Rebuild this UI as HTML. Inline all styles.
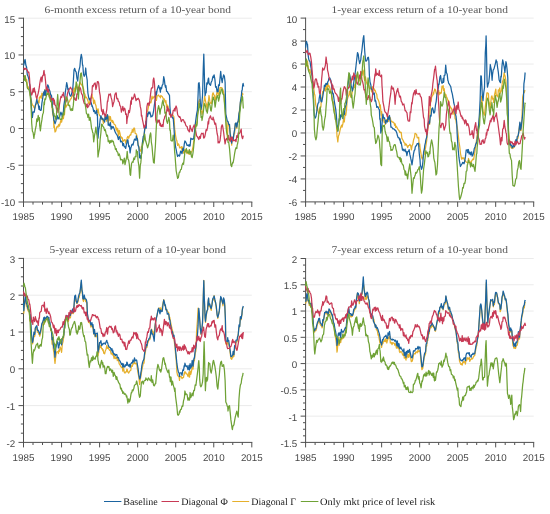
<!DOCTYPE html>
<html><head><meta charset="utf-8"><style>
html,body{margin:0;padding:0;background:#fff;width:550px;height:514px;overflow:hidden}
svg{display:block;filter:blur(0.4px)}
text{text-rendering:geometricPrecision}
.t{font-family:"Liberation Sans",sans-serif;font-size:9.8px;fill:#474747}
.ti{font-family:"Liberation Serif",serif;font-size:10.2px;fill:#555555}
.lg{font-family:"Liberation Serif",serif;font-size:10px;fill:#1a1a1a}
</style></head><body>
<svg width="550" height="514" viewBox="0 0 550 514">
<rect width="550" height="514" fill="#fff"/>
<line x1="23.5" y1="18.20" x2="251.8" y2="18.20" stroke="#ebebeb" stroke-width="1"/>
<line x1="23.5" y1="54.96" x2="251.8" y2="54.96" stroke="#ebebeb" stroke-width="1"/>
<line x1="23.5" y1="91.72" x2="251.8" y2="91.72" stroke="#ebebeb" stroke-width="1"/>
<line x1="23.5" y1="128.48" x2="251.8" y2="128.48" stroke="#ebebeb" stroke-width="1"/>
<line x1="23.5" y1="165.24" x2="251.8" y2="165.24" stroke="#ebebeb" stroke-width="1"/>
<line x1="18.5" y1="18.20" x2="23.5" y2="18.20" stroke="#505050" stroke-width="1"/>
<line x1="20.9" y1="27.39" x2="23.5" y2="27.39" stroke="#505050" stroke-width="1"/>
<line x1="20.9" y1="36.58" x2="23.5" y2="36.58" stroke="#505050" stroke-width="1"/>
<line x1="20.9" y1="45.77" x2="23.5" y2="45.77" stroke="#505050" stroke-width="1"/>
<line x1="18.5" y1="54.96" x2="23.5" y2="54.96" stroke="#505050" stroke-width="1"/>
<line x1="20.9" y1="64.15" x2="23.5" y2="64.15" stroke="#505050" stroke-width="1"/>
<line x1="20.9" y1="73.34" x2="23.5" y2="73.34" stroke="#505050" stroke-width="1"/>
<line x1="20.9" y1="82.53" x2="23.5" y2="82.53" stroke="#505050" stroke-width="1"/>
<line x1="18.5" y1="91.72" x2="23.5" y2="91.72" stroke="#505050" stroke-width="1"/>
<line x1="20.9" y1="100.91" x2="23.5" y2="100.91" stroke="#505050" stroke-width="1"/>
<line x1="20.9" y1="110.10" x2="23.5" y2="110.10" stroke="#505050" stroke-width="1"/>
<line x1="20.9" y1="119.29" x2="23.5" y2="119.29" stroke="#505050" stroke-width="1"/>
<line x1="18.5" y1="128.48" x2="23.5" y2="128.48" stroke="#505050" stroke-width="1"/>
<line x1="20.9" y1="137.67" x2="23.5" y2="137.67" stroke="#505050" stroke-width="1"/>
<line x1="20.9" y1="146.86" x2="23.5" y2="146.86" stroke="#505050" stroke-width="1"/>
<line x1="20.9" y1="156.05" x2="23.5" y2="156.05" stroke="#505050" stroke-width="1"/>
<line x1="18.5" y1="165.24" x2="23.5" y2="165.24" stroke="#505050" stroke-width="1"/>
<line x1="20.9" y1="174.43" x2="23.5" y2="174.43" stroke="#505050" stroke-width="1"/>
<line x1="20.9" y1="183.62" x2="23.5" y2="183.62" stroke="#505050" stroke-width="1"/>
<line x1="20.9" y1="192.81" x2="23.5" y2="192.81" stroke="#505050" stroke-width="1"/>
<line x1="18.5" y1="202.00" x2="23.5" y2="202.00" stroke="#505050" stroke-width="1"/>
<line x1="23.50" y1="202.0" x2="23.50" y2="207.0" stroke="#505050" stroke-width="1"/>
<line x1="33.01" y1="202.0" x2="33.01" y2="204.6" stroke="#505050" stroke-width="1"/>
<line x1="42.52" y1="202.0" x2="42.52" y2="204.6" stroke="#505050" stroke-width="1"/>
<line x1="52.04" y1="202.0" x2="52.04" y2="204.6" stroke="#505050" stroke-width="1"/>
<line x1="61.55" y1="202.0" x2="61.55" y2="207.0" stroke="#505050" stroke-width="1"/>
<line x1="71.06" y1="202.0" x2="71.06" y2="204.6" stroke="#505050" stroke-width="1"/>
<line x1="80.58" y1="202.0" x2="80.58" y2="204.6" stroke="#505050" stroke-width="1"/>
<line x1="90.09" y1="202.0" x2="90.09" y2="204.6" stroke="#505050" stroke-width="1"/>
<line x1="99.60" y1="202.0" x2="99.60" y2="207.0" stroke="#505050" stroke-width="1"/>
<line x1="109.11" y1="202.0" x2="109.11" y2="204.6" stroke="#505050" stroke-width="1"/>
<line x1="118.63" y1="202.0" x2="118.63" y2="204.6" stroke="#505050" stroke-width="1"/>
<line x1="128.14" y1="202.0" x2="128.14" y2="204.6" stroke="#505050" stroke-width="1"/>
<line x1="137.65" y1="202.0" x2="137.65" y2="207.0" stroke="#505050" stroke-width="1"/>
<line x1="147.16" y1="202.0" x2="147.16" y2="204.6" stroke="#505050" stroke-width="1"/>
<line x1="156.68" y1="202.0" x2="156.68" y2="204.6" stroke="#505050" stroke-width="1"/>
<line x1="166.19" y1="202.0" x2="166.19" y2="204.6" stroke="#505050" stroke-width="1"/>
<line x1="175.70" y1="202.0" x2="175.70" y2="207.0" stroke="#505050" stroke-width="1"/>
<line x1="185.21" y1="202.0" x2="185.21" y2="204.6" stroke="#505050" stroke-width="1"/>
<line x1="194.73" y1="202.0" x2="194.73" y2="204.6" stroke="#505050" stroke-width="1"/>
<line x1="204.24" y1="202.0" x2="204.24" y2="204.6" stroke="#505050" stroke-width="1"/>
<line x1="213.75" y1="202.0" x2="213.75" y2="207.0" stroke="#505050" stroke-width="1"/>
<line x1="223.26" y1="202.0" x2="223.26" y2="204.6" stroke="#505050" stroke-width="1"/>
<line x1="232.78" y1="202.0" x2="232.78" y2="204.6" stroke="#505050" stroke-width="1"/>
<line x1="242.29" y1="202.0" x2="242.29" y2="204.6" stroke="#505050" stroke-width="1"/>
<line x1="251.80" y1="202.0" x2="251.80" y2="207.0" stroke="#505050" stroke-width="1"/>
<line x1="23.5" y1="17.7" x2="23.5" y2="202.5" stroke="#505050" stroke-width="1"/>
<line x1="23.0" y1="202.0" x2="252.3" y2="202.0" stroke="#505050" stroke-width="1"/>
<text x="15.2" y="22.6" text-anchor="end" class="t">15</text>
<text x="15.2" y="59.4" text-anchor="end" class="t">10</text>
<text x="15.2" y="96.1" text-anchor="end" class="t">5</text>
<text x="15.2" y="132.9" text-anchor="end" class="t">0</text>
<text x="15.2" y="169.6" text-anchor="end" class="t">-5</text>
<text x="15.2" y="206.4" text-anchor="end" class="t">-10</text>
<text x="23.5" y="220.4" text-anchor="middle" class="t">1985</text>
<text x="61.5" y="220.4" text-anchor="middle" class="t">1990</text>
<text x="99.6" y="220.4" text-anchor="middle" class="t">1995</text>
<text x="137.7" y="220.4" text-anchor="middle" class="t">2000</text>
<text x="175.7" y="220.4" text-anchor="middle" class="t">2005</text>
<text x="213.8" y="220.4" text-anchor="middle" class="t">2010</text>
<text x="251.8" y="220.4" text-anchor="middle" class="t">2015</text>
<text x="44.5" y="12.8" class="ti" textLength="186.4" lengthAdjust="spacingAndGlyphs">6-month excess return of a 10-year bond</text>
<line x1="305.6" y1="18.10" x2="533.7" y2="18.10" stroke="#ebebeb" stroke-width="1"/>
<line x1="305.6" y1="41.08" x2="533.7" y2="41.08" stroke="#ebebeb" stroke-width="1"/>
<line x1="305.6" y1="64.05" x2="533.7" y2="64.05" stroke="#ebebeb" stroke-width="1"/>
<line x1="305.6" y1="87.03" x2="533.7" y2="87.03" stroke="#ebebeb" stroke-width="1"/>
<line x1="305.6" y1="110.00" x2="533.7" y2="110.00" stroke="#ebebeb" stroke-width="1"/>
<line x1="305.6" y1="132.97" x2="533.7" y2="132.97" stroke="#ebebeb" stroke-width="1"/>
<line x1="305.6" y1="155.95" x2="533.7" y2="155.95" stroke="#ebebeb" stroke-width="1"/>
<line x1="305.6" y1="178.93" x2="533.7" y2="178.93" stroke="#ebebeb" stroke-width="1"/>
<line x1="300.6" y1="18.10" x2="305.6" y2="18.10" stroke="#505050" stroke-width="1"/>
<line x1="303.0" y1="29.59" x2="305.6" y2="29.59" stroke="#505050" stroke-width="1"/>
<line x1="300.6" y1="41.08" x2="305.6" y2="41.08" stroke="#505050" stroke-width="1"/>
<line x1="303.0" y1="52.56" x2="305.6" y2="52.56" stroke="#505050" stroke-width="1"/>
<line x1="300.6" y1="64.05" x2="305.6" y2="64.05" stroke="#505050" stroke-width="1"/>
<line x1="303.0" y1="75.54" x2="305.6" y2="75.54" stroke="#505050" stroke-width="1"/>
<line x1="300.6" y1="87.03" x2="305.6" y2="87.03" stroke="#505050" stroke-width="1"/>
<line x1="303.0" y1="98.51" x2="305.6" y2="98.51" stroke="#505050" stroke-width="1"/>
<line x1="300.6" y1="110.00" x2="305.6" y2="110.00" stroke="#505050" stroke-width="1"/>
<line x1="303.0" y1="121.49" x2="305.6" y2="121.49" stroke="#505050" stroke-width="1"/>
<line x1="300.6" y1="132.97" x2="305.6" y2="132.97" stroke="#505050" stroke-width="1"/>
<line x1="303.0" y1="144.46" x2="305.6" y2="144.46" stroke="#505050" stroke-width="1"/>
<line x1="300.6" y1="155.95" x2="305.6" y2="155.95" stroke="#505050" stroke-width="1"/>
<line x1="303.0" y1="167.44" x2="305.6" y2="167.44" stroke="#505050" stroke-width="1"/>
<line x1="300.6" y1="178.93" x2="305.6" y2="178.93" stroke="#505050" stroke-width="1"/>
<line x1="303.0" y1="190.41" x2="305.6" y2="190.41" stroke="#505050" stroke-width="1"/>
<line x1="300.6" y1="201.90" x2="305.6" y2="201.90" stroke="#505050" stroke-width="1"/>
<line x1="305.60" y1="201.9" x2="305.60" y2="206.9" stroke="#505050" stroke-width="1"/>
<line x1="315.10" y1="201.9" x2="315.10" y2="204.5" stroke="#505050" stroke-width="1"/>
<line x1="324.61" y1="201.9" x2="324.61" y2="204.5" stroke="#505050" stroke-width="1"/>
<line x1="334.11" y1="201.9" x2="334.11" y2="204.5" stroke="#505050" stroke-width="1"/>
<line x1="343.62" y1="201.9" x2="343.62" y2="206.9" stroke="#505050" stroke-width="1"/>
<line x1="353.12" y1="201.9" x2="353.12" y2="204.5" stroke="#505050" stroke-width="1"/>
<line x1="362.62" y1="201.9" x2="362.62" y2="204.5" stroke="#505050" stroke-width="1"/>
<line x1="372.13" y1="201.9" x2="372.13" y2="204.5" stroke="#505050" stroke-width="1"/>
<line x1="381.63" y1="201.9" x2="381.63" y2="206.9" stroke="#505050" stroke-width="1"/>
<line x1="391.14" y1="201.9" x2="391.14" y2="204.5" stroke="#505050" stroke-width="1"/>
<line x1="400.64" y1="201.9" x2="400.64" y2="204.5" stroke="#505050" stroke-width="1"/>
<line x1="410.15" y1="201.9" x2="410.15" y2="204.5" stroke="#505050" stroke-width="1"/>
<line x1="419.65" y1="201.9" x2="419.65" y2="206.9" stroke="#505050" stroke-width="1"/>
<line x1="429.15" y1="201.9" x2="429.15" y2="204.5" stroke="#505050" stroke-width="1"/>
<line x1="438.66" y1="201.9" x2="438.66" y2="204.5" stroke="#505050" stroke-width="1"/>
<line x1="448.16" y1="201.9" x2="448.16" y2="204.5" stroke="#505050" stroke-width="1"/>
<line x1="457.67" y1="201.9" x2="457.67" y2="206.9" stroke="#505050" stroke-width="1"/>
<line x1="467.17" y1="201.9" x2="467.17" y2="204.5" stroke="#505050" stroke-width="1"/>
<line x1="476.68" y1="201.9" x2="476.68" y2="204.5" stroke="#505050" stroke-width="1"/>
<line x1="486.18" y1="201.9" x2="486.18" y2="204.5" stroke="#505050" stroke-width="1"/>
<line x1="495.68" y1="201.9" x2="495.68" y2="206.9" stroke="#505050" stroke-width="1"/>
<line x1="505.19" y1="201.9" x2="505.19" y2="204.5" stroke="#505050" stroke-width="1"/>
<line x1="514.69" y1="201.9" x2="514.69" y2="204.5" stroke="#505050" stroke-width="1"/>
<line x1="524.20" y1="201.9" x2="524.20" y2="204.5" stroke="#505050" stroke-width="1"/>
<line x1="533.70" y1="201.9" x2="533.70" y2="206.9" stroke="#505050" stroke-width="1"/>
<line x1="305.6" y1="17.6" x2="305.6" y2="202.4" stroke="#505050" stroke-width="1"/>
<line x1="305.1" y1="201.9" x2="534.2" y2="201.9" stroke="#505050" stroke-width="1"/>
<text x="297.3" y="22.5" text-anchor="end" class="t">10</text>
<text x="297.3" y="45.5" text-anchor="end" class="t">8</text>
<text x="297.3" y="68.5" text-anchor="end" class="t">6</text>
<text x="297.3" y="91.4" text-anchor="end" class="t">4</text>
<text x="297.3" y="114.4" text-anchor="end" class="t">2</text>
<text x="297.3" y="137.4" text-anchor="end" class="t">0</text>
<text x="297.3" y="160.4" text-anchor="end" class="t">-2</text>
<text x="297.3" y="183.3" text-anchor="end" class="t">-4</text>
<text x="297.3" y="206.3" text-anchor="end" class="t">-6</text>
<text x="305.6" y="220.3" text-anchor="middle" class="t">1985</text>
<text x="343.6" y="220.3" text-anchor="middle" class="t">1990</text>
<text x="381.6" y="220.3" text-anchor="middle" class="t">1995</text>
<text x="419.7" y="220.3" text-anchor="middle" class="t">2000</text>
<text x="457.7" y="220.3" text-anchor="middle" class="t">2005</text>
<text x="495.7" y="220.3" text-anchor="middle" class="t">2010</text>
<text x="533.7" y="220.3" text-anchor="middle" class="t">2015</text>
<text x="331.5" y="12.8" class="ti" textLength="176.4" lengthAdjust="spacingAndGlyphs">1-year excess return of a 10-year bond</text>
<line x1="23.5" y1="258.40" x2="251.8" y2="258.40" stroke="#ebebeb" stroke-width="1"/>
<line x1="23.5" y1="295.20" x2="251.8" y2="295.20" stroke="#ebebeb" stroke-width="1"/>
<line x1="23.5" y1="332.00" x2="251.8" y2="332.00" stroke="#ebebeb" stroke-width="1"/>
<line x1="23.5" y1="368.80" x2="251.8" y2="368.80" stroke="#ebebeb" stroke-width="1"/>
<line x1="23.5" y1="405.60" x2="251.8" y2="405.60" stroke="#ebebeb" stroke-width="1"/>
<line x1="18.5" y1="258.40" x2="23.5" y2="258.40" stroke="#505050" stroke-width="1"/>
<line x1="20.9" y1="267.60" x2="23.5" y2="267.60" stroke="#505050" stroke-width="1"/>
<line x1="20.9" y1="276.80" x2="23.5" y2="276.80" stroke="#505050" stroke-width="1"/>
<line x1="20.9" y1="286.00" x2="23.5" y2="286.00" stroke="#505050" stroke-width="1"/>
<line x1="18.5" y1="295.20" x2="23.5" y2="295.20" stroke="#505050" stroke-width="1"/>
<line x1="20.9" y1="304.40" x2="23.5" y2="304.40" stroke="#505050" stroke-width="1"/>
<line x1="20.9" y1="313.60" x2="23.5" y2="313.60" stroke="#505050" stroke-width="1"/>
<line x1="20.9" y1="322.80" x2="23.5" y2="322.80" stroke="#505050" stroke-width="1"/>
<line x1="18.5" y1="332.00" x2="23.5" y2="332.00" stroke="#505050" stroke-width="1"/>
<line x1="20.9" y1="341.20" x2="23.5" y2="341.20" stroke="#505050" stroke-width="1"/>
<line x1="20.9" y1="350.40" x2="23.5" y2="350.40" stroke="#505050" stroke-width="1"/>
<line x1="20.9" y1="359.60" x2="23.5" y2="359.60" stroke="#505050" stroke-width="1"/>
<line x1="18.5" y1="368.80" x2="23.5" y2="368.80" stroke="#505050" stroke-width="1"/>
<line x1="20.9" y1="378.00" x2="23.5" y2="378.00" stroke="#505050" stroke-width="1"/>
<line x1="20.9" y1="387.20" x2="23.5" y2="387.20" stroke="#505050" stroke-width="1"/>
<line x1="20.9" y1="396.40" x2="23.5" y2="396.40" stroke="#505050" stroke-width="1"/>
<line x1="18.5" y1="405.60" x2="23.5" y2="405.60" stroke="#505050" stroke-width="1"/>
<line x1="20.9" y1="414.80" x2="23.5" y2="414.80" stroke="#505050" stroke-width="1"/>
<line x1="20.9" y1="424.00" x2="23.5" y2="424.00" stroke="#505050" stroke-width="1"/>
<line x1="20.9" y1="433.20" x2="23.5" y2="433.20" stroke="#505050" stroke-width="1"/>
<line x1="18.5" y1="442.40" x2="23.5" y2="442.40" stroke="#505050" stroke-width="1"/>
<line x1="23.50" y1="442.4" x2="23.50" y2="447.4" stroke="#505050" stroke-width="1"/>
<line x1="33.01" y1="442.4" x2="33.01" y2="445.0" stroke="#505050" stroke-width="1"/>
<line x1="42.52" y1="442.4" x2="42.52" y2="445.0" stroke="#505050" stroke-width="1"/>
<line x1="52.04" y1="442.4" x2="52.04" y2="445.0" stroke="#505050" stroke-width="1"/>
<line x1="61.55" y1="442.4" x2="61.55" y2="447.4" stroke="#505050" stroke-width="1"/>
<line x1="71.06" y1="442.4" x2="71.06" y2="445.0" stroke="#505050" stroke-width="1"/>
<line x1="80.58" y1="442.4" x2="80.58" y2="445.0" stroke="#505050" stroke-width="1"/>
<line x1="90.09" y1="442.4" x2="90.09" y2="445.0" stroke="#505050" stroke-width="1"/>
<line x1="99.60" y1="442.4" x2="99.60" y2="447.4" stroke="#505050" stroke-width="1"/>
<line x1="109.11" y1="442.4" x2="109.11" y2="445.0" stroke="#505050" stroke-width="1"/>
<line x1="118.63" y1="442.4" x2="118.63" y2="445.0" stroke="#505050" stroke-width="1"/>
<line x1="128.14" y1="442.4" x2="128.14" y2="445.0" stroke="#505050" stroke-width="1"/>
<line x1="137.65" y1="442.4" x2="137.65" y2="447.4" stroke="#505050" stroke-width="1"/>
<line x1="147.16" y1="442.4" x2="147.16" y2="445.0" stroke="#505050" stroke-width="1"/>
<line x1="156.68" y1="442.4" x2="156.68" y2="445.0" stroke="#505050" stroke-width="1"/>
<line x1="166.19" y1="442.4" x2="166.19" y2="445.0" stroke="#505050" stroke-width="1"/>
<line x1="175.70" y1="442.4" x2="175.70" y2="447.4" stroke="#505050" stroke-width="1"/>
<line x1="185.21" y1="442.4" x2="185.21" y2="445.0" stroke="#505050" stroke-width="1"/>
<line x1="194.73" y1="442.4" x2="194.73" y2="445.0" stroke="#505050" stroke-width="1"/>
<line x1="204.24" y1="442.4" x2="204.24" y2="445.0" stroke="#505050" stroke-width="1"/>
<line x1="213.75" y1="442.4" x2="213.75" y2="447.4" stroke="#505050" stroke-width="1"/>
<line x1="223.26" y1="442.4" x2="223.26" y2="445.0" stroke="#505050" stroke-width="1"/>
<line x1="232.78" y1="442.4" x2="232.78" y2="445.0" stroke="#505050" stroke-width="1"/>
<line x1="242.29" y1="442.4" x2="242.29" y2="445.0" stroke="#505050" stroke-width="1"/>
<line x1="251.80" y1="442.4" x2="251.80" y2="447.4" stroke="#505050" stroke-width="1"/>
<line x1="23.5" y1="257.9" x2="23.5" y2="442.9" stroke="#505050" stroke-width="1"/>
<line x1="23.0" y1="442.4" x2="252.3" y2="442.4" stroke="#505050" stroke-width="1"/>
<text x="15.2" y="262.8" text-anchor="end" class="t">3</text>
<text x="15.2" y="299.6" text-anchor="end" class="t">2</text>
<text x="15.2" y="336.4" text-anchor="end" class="t">1</text>
<text x="15.2" y="373.2" text-anchor="end" class="t">0</text>
<text x="15.2" y="410.0" text-anchor="end" class="t">-1</text>
<text x="15.2" y="446.8" text-anchor="end" class="t">-2</text>
<text x="23.5" y="460.8" text-anchor="middle" class="t">1985</text>
<text x="61.5" y="460.8" text-anchor="middle" class="t">1990</text>
<text x="99.6" y="460.8" text-anchor="middle" class="t">1995</text>
<text x="137.7" y="460.8" text-anchor="middle" class="t">2000</text>
<text x="175.7" y="460.8" text-anchor="middle" class="t">2005</text>
<text x="213.8" y="460.8" text-anchor="middle" class="t">2010</text>
<text x="251.8" y="460.8" text-anchor="middle" class="t">2015</text>
<text x="49.5" y="253.1" class="ti" textLength="176.4" lengthAdjust="spacingAndGlyphs">5-year excess return of a 10-year bond</text>
<line x1="305.6" y1="258.50" x2="533.7" y2="258.50" stroke="#ebebeb" stroke-width="1"/>
<line x1="305.6" y1="284.77" x2="533.7" y2="284.77" stroke="#ebebeb" stroke-width="1"/>
<line x1="305.6" y1="311.04" x2="533.7" y2="311.04" stroke="#ebebeb" stroke-width="1"/>
<line x1="305.6" y1="337.31" x2="533.7" y2="337.31" stroke="#ebebeb" stroke-width="1"/>
<line x1="305.6" y1="363.59" x2="533.7" y2="363.59" stroke="#ebebeb" stroke-width="1"/>
<line x1="305.6" y1="389.86" x2="533.7" y2="389.86" stroke="#ebebeb" stroke-width="1"/>
<line x1="305.6" y1="416.13" x2="533.7" y2="416.13" stroke="#ebebeb" stroke-width="1"/>
<line x1="300.6" y1="258.50" x2="305.6" y2="258.50" stroke="#505050" stroke-width="1"/>
<line x1="303.0" y1="265.07" x2="305.6" y2="265.07" stroke="#505050" stroke-width="1"/>
<line x1="303.0" y1="271.64" x2="305.6" y2="271.64" stroke="#505050" stroke-width="1"/>
<line x1="303.0" y1="278.20" x2="305.6" y2="278.20" stroke="#505050" stroke-width="1"/>
<line x1="300.6" y1="284.77" x2="305.6" y2="284.77" stroke="#505050" stroke-width="1"/>
<line x1="303.0" y1="291.34" x2="305.6" y2="291.34" stroke="#505050" stroke-width="1"/>
<line x1="303.0" y1="297.91" x2="305.6" y2="297.91" stroke="#505050" stroke-width="1"/>
<line x1="303.0" y1="304.48" x2="305.6" y2="304.48" stroke="#505050" stroke-width="1"/>
<line x1="300.6" y1="311.04" x2="305.6" y2="311.04" stroke="#505050" stroke-width="1"/>
<line x1="303.0" y1="317.61" x2="305.6" y2="317.61" stroke="#505050" stroke-width="1"/>
<line x1="303.0" y1="324.18" x2="305.6" y2="324.18" stroke="#505050" stroke-width="1"/>
<line x1="303.0" y1="330.75" x2="305.6" y2="330.75" stroke="#505050" stroke-width="1"/>
<line x1="300.6" y1="337.31" x2="305.6" y2="337.31" stroke="#505050" stroke-width="1"/>
<line x1="303.0" y1="343.88" x2="305.6" y2="343.88" stroke="#505050" stroke-width="1"/>
<line x1="303.0" y1="350.45" x2="305.6" y2="350.45" stroke="#505050" stroke-width="1"/>
<line x1="303.0" y1="357.02" x2="305.6" y2="357.02" stroke="#505050" stroke-width="1"/>
<line x1="300.6" y1="363.59" x2="305.6" y2="363.59" stroke="#505050" stroke-width="1"/>
<line x1="303.0" y1="370.15" x2="305.6" y2="370.15" stroke="#505050" stroke-width="1"/>
<line x1="303.0" y1="376.72" x2="305.6" y2="376.72" stroke="#505050" stroke-width="1"/>
<line x1="303.0" y1="383.29" x2="305.6" y2="383.29" stroke="#505050" stroke-width="1"/>
<line x1="300.6" y1="389.86" x2="305.6" y2="389.86" stroke="#505050" stroke-width="1"/>
<line x1="303.0" y1="396.42" x2="305.6" y2="396.42" stroke="#505050" stroke-width="1"/>
<line x1="303.0" y1="402.99" x2="305.6" y2="402.99" stroke="#505050" stroke-width="1"/>
<line x1="303.0" y1="409.56" x2="305.6" y2="409.56" stroke="#505050" stroke-width="1"/>
<line x1="300.6" y1="416.13" x2="305.6" y2="416.13" stroke="#505050" stroke-width="1"/>
<line x1="303.0" y1="422.70" x2="305.6" y2="422.70" stroke="#505050" stroke-width="1"/>
<line x1="303.0" y1="429.26" x2="305.6" y2="429.26" stroke="#505050" stroke-width="1"/>
<line x1="303.0" y1="435.83" x2="305.6" y2="435.83" stroke="#505050" stroke-width="1"/>
<line x1="300.6" y1="442.40" x2="305.6" y2="442.40" stroke="#505050" stroke-width="1"/>
<line x1="305.60" y1="442.4" x2="305.60" y2="447.4" stroke="#505050" stroke-width="1"/>
<line x1="315.10" y1="442.4" x2="315.10" y2="445.0" stroke="#505050" stroke-width="1"/>
<line x1="324.61" y1="442.4" x2="324.61" y2="445.0" stroke="#505050" stroke-width="1"/>
<line x1="334.11" y1="442.4" x2="334.11" y2="445.0" stroke="#505050" stroke-width="1"/>
<line x1="343.62" y1="442.4" x2="343.62" y2="447.4" stroke="#505050" stroke-width="1"/>
<line x1="353.12" y1="442.4" x2="353.12" y2="445.0" stroke="#505050" stroke-width="1"/>
<line x1="362.62" y1="442.4" x2="362.62" y2="445.0" stroke="#505050" stroke-width="1"/>
<line x1="372.13" y1="442.4" x2="372.13" y2="445.0" stroke="#505050" stroke-width="1"/>
<line x1="381.63" y1="442.4" x2="381.63" y2="447.4" stroke="#505050" stroke-width="1"/>
<line x1="391.14" y1="442.4" x2="391.14" y2="445.0" stroke="#505050" stroke-width="1"/>
<line x1="400.64" y1="442.4" x2="400.64" y2="445.0" stroke="#505050" stroke-width="1"/>
<line x1="410.15" y1="442.4" x2="410.15" y2="445.0" stroke="#505050" stroke-width="1"/>
<line x1="419.65" y1="442.4" x2="419.65" y2="447.4" stroke="#505050" stroke-width="1"/>
<line x1="429.15" y1="442.4" x2="429.15" y2="445.0" stroke="#505050" stroke-width="1"/>
<line x1="438.66" y1="442.4" x2="438.66" y2="445.0" stroke="#505050" stroke-width="1"/>
<line x1="448.16" y1="442.4" x2="448.16" y2="445.0" stroke="#505050" stroke-width="1"/>
<line x1="457.67" y1="442.4" x2="457.67" y2="447.4" stroke="#505050" stroke-width="1"/>
<line x1="467.17" y1="442.4" x2="467.17" y2="445.0" stroke="#505050" stroke-width="1"/>
<line x1="476.68" y1="442.4" x2="476.68" y2="445.0" stroke="#505050" stroke-width="1"/>
<line x1="486.18" y1="442.4" x2="486.18" y2="445.0" stroke="#505050" stroke-width="1"/>
<line x1="495.68" y1="442.4" x2="495.68" y2="447.4" stroke="#505050" stroke-width="1"/>
<line x1="505.19" y1="442.4" x2="505.19" y2="445.0" stroke="#505050" stroke-width="1"/>
<line x1="514.69" y1="442.4" x2="514.69" y2="445.0" stroke="#505050" stroke-width="1"/>
<line x1="524.20" y1="442.4" x2="524.20" y2="445.0" stroke="#505050" stroke-width="1"/>
<line x1="533.70" y1="442.4" x2="533.70" y2="447.4" stroke="#505050" stroke-width="1"/>
<line x1="305.6" y1="258.0" x2="305.6" y2="442.9" stroke="#505050" stroke-width="1"/>
<line x1="305.1" y1="442.4" x2="534.2" y2="442.4" stroke="#505050" stroke-width="1"/>
<text x="297.3" y="262.9" text-anchor="end" class="t">2</text>
<text x="297.3" y="289.2" text-anchor="end" class="t">1.5</text>
<text x="297.3" y="315.4" text-anchor="end" class="t">1</text>
<text x="297.3" y="341.7" text-anchor="end" class="t">0.5</text>
<text x="297.3" y="368.0" text-anchor="end" class="t">0</text>
<text x="297.3" y="394.3" text-anchor="end" class="t">-0.5</text>
<text x="297.3" y="420.5" text-anchor="end" class="t">-1</text>
<text x="297.3" y="446.8" text-anchor="end" class="t">-1.5</text>
<text x="305.6" y="460.8" text-anchor="middle" class="t">1985</text>
<text x="343.6" y="460.8" text-anchor="middle" class="t">1990</text>
<text x="381.6" y="460.8" text-anchor="middle" class="t">1995</text>
<text x="419.7" y="460.8" text-anchor="middle" class="t">2000</text>
<text x="457.7" y="460.8" text-anchor="middle" class="t">2005</text>
<text x="495.7" y="460.8" text-anchor="middle" class="t">2010</text>
<text x="533.7" y="460.8" text-anchor="middle" class="t">2015</text>
<text x="331.5" y="253.1" class="ti" textLength="176.4" lengthAdjust="spacingAndGlyphs">7-year excess return of a 10-year bond</text>
<path d="M23.6,77.8 L24.4,77.9 L24.8,75.7 L25.1,76.1 L25.4,77.0 L25.8,80.3 L26.6,79.5 L27.3,84.6 L28.0,88.7 L28.8,87.0 L29.5,89.6 L29.8,90.6 L30.2,95.0 L30.9,97.8 L31.7,102.7 L32.4,104.9 L33.1,105.4 L33.9,107.4 L34.3,107.8 L34.6,108.5 L34.9,107.9 L35.3,106.0 L36.1,104.0 L36.8,103.6 L37.5,102.8 L38.2,101.0 L39.0,103.0 L39.4,97.3 L39.7,97.4 L40.4,96.0 L41.2,98.4 L41.9,93.2 L42.6,95.9 L43.4,92.9 L43.8,92.4 L44.1,92.0 L44.4,94.2 L44.8,90.0 L45.5,91.4 L46.3,88.7 L47.0,90.4 L47.7,91.3 L48.5,94.3 L48.9,93.3 L49.2,96.9 L49.9,95.8 L50.7,100.6 L51.4,101.7 L52.1,107.2 L52.8,114.5 L53.3,116.5 L53.6,118.7 L53.9,127.4 L54.3,125.7 L55.0,132.0 L55.8,131.1 L56.5,127.8 L57.2,126.3 L58.0,127.2 L58.4,125.0 L58.7,124.6 L59.0,124.3 L59.4,126.1 L60.1,123.5 L60.9,120.1 L61.6,122.2 L62.3,118.6 L63.1,116.1 L63.4,118.7 L63.8,115.3 L64.5,114.5 L65.3,100.9 L66.0,107.2 L66.7,105.6 L67.4,104.8 L67.9,104.9 L68.2,103.6 L68.5,102.9 L68.9,102.2 L69.6,101.3 L70.4,99.1 L71.1,98.8 L71.8,96.4 L72.6,95.5 L73.0,94.5 L73.3,94.2 L74.0,88.0 L74.7,91.8 L75.5,86.4 L76.2,87.7 L76.9,87.0 L77.4,89.3 L77.7,89.9 L78.0,87.3 L78.4,89.1 L79.1,85.5 L79.9,82.1 L80.6,83.9 L81.3,84.1 L82.0,85.5 L82.5,86.4 L82.8,86.6 L83.5,88.7 L84.2,92.7 L85.0,94.6 L85.7,97.9 L86.4,97.2 L87.2,98.7 L87.5,99.9 L87.9,100.6 L88.6,103.5 L89.3,103.8 L90.1,99.2 L90.8,99.0 L91.5,95.9 L92.0,94.4 L92.3,96.7 L92.6,98.0 L93.0,97.8 L93.7,103.7 L94.5,100.2 L95.2,103.7 L95.9,105.4 L96.6,110.0 L97.0,109.0 L97.4,112.8 L98.1,108.8 L98.8,113.4 L99.6,115.5 L99.9,115.7 L100.2,116.3 L100.8,116.8 L101.7,119.6 L102.1,118.2 L102.6,118.4 L103.4,123.6 L104.3,119.1 L104.7,119.1 L105.2,117.0 L105.9,114.8 L106.5,121.2 L107.4,114.9 L107.8,117.1 L108.5,123.0 L109.1,116.2 L109.7,120.1 L110.4,116.6 L111.1,121.1 L111.9,120.4 L112.3,122.7 L112.6,120.4 L113.3,121.9 L114.1,124.2 L114.8,124.6 L115.5,125.4 L116.2,129.8 L116.7,127.9 L117.0,128.5 L117.3,131.5 L117.7,128.9 L118.4,135.9 L119.2,130.4 L119.9,132.9 L120.6,136.9 L121.4,136.8 L121.8,138.3 L122.1,137.7 L122.4,138.0 L122.8,141.7 L123.5,140.8 L124.3,139.8 L125.0,139.6 L125.7,143.2 L126.5,140.8 L126.8,140.5 L127.2,137.5 L127.9,136.4 L128.7,138.3 L129.4,136.0 L130.1,134.9 L130.8,135.1 L131.3,132.3 L131.6,132.5 L131.9,131.8 L132.3,129.5 L133.0,132.4 L133.8,128.1 L134.5,128.2 L135.2,133.5 L136.0,133.6 L136.3,134.3 L136.7,134.9 L137.4,138.5 L138.1,145.0 L138.9,146.3 L139.6,150.3 L140.3,149.8 L140.8,151.4 L141.1,150.9 L141.4,146.7 L141.8,147.1 L142.5,142.3 L143.3,139.2 L144.0,135.4 L144.7,130.5 L145.4,127.0 L145.9,123.5 L146.2,121.3 L146.8,112.3 L147.1,111.3 L147.6,111.2 L148.4,107.1 L149.1,103.1 L149.8,102.8 L150.6,101.8 L150.9,103.0 L151.3,100.9 L152.0,96.2 L152.7,98.8 L153.5,97.4 L154.2,96.5 L154.9,97.0 L155.4,96.7 L155.7,93.0 L156.0,93.6 L156.4,100.4 L157.1,96.0 L157.9,95.5 L158.6,95.0 L159.3,96.4 L160.0,96.5 L160.4,97.8 L160.8,95.5 L161.5,96.0 L162.2,96.5 L163.0,98.2 L163.7,99.2 L164.4,99.0 L164.9,102.0 L165.2,102.1 L165.5,102.8 L165.9,100.6 L166.6,107.2 L167.3,105.0 L168.1,106.6 L168.8,110.8 L169.5,109.4 L169.9,110.9 L170.3,112.7 L171.0,115.1 L171.7,115.5 L172.5,115.6 L173.0,115.4 L173.8,116.5 L174.1,119.6 L174.7,129.3 L175.0,130.7 L175.5,135.0 L176.2,139.2 L176.9,140.8 L177.6,145.4 L178.4,143.8 L179.1,145.3 L179.5,147.5 L179.8,148.0 L180.6,147.6 L181.3,146.6 L182.0,150.7 L182.8,147.0 L183.5,153.1 L184.2,149.6 L184.5,151.0 L184.9,152.4 L185.7,149.6 L186.4,152.3 L187.1,153.6 L187.9,150.4 L188.6,152.9 L189.0,154.4 L189.3,152.5 L189.6,152.8 L190.1,154.2 L190.8,152.1 L191.5,152.1 L192.2,150.5 L193.0,146.8 L193.7,141.6 L194.1,140.2 L194.4,136.9 L195.2,131.2 L195.9,125.4 L196.8,122.1 L197.2,120.4 L197.6,114.0 L198.5,102.5 L199.4,99.9 L199.8,99.5 L200.3,104.6 L201.1,110.9 L201.7,112.0 L202.0,114.3 L202.9,111.0 L203.8,102.3 L204.2,99.9 L204.6,96.2 L205.5,101.0 L206.1,104.2 L206.4,106.0 L206.7,104.2 L207.3,110.6 L208.1,102.3 L208.6,99.8 L209.0,95.5 L209.9,101.4 L210.8,103.5 L211.2,102.6 L211.6,103.5 L212.5,94.1 L213.1,92.7 L213.4,93.5 L213.7,94.7 L214.3,95.2 L215.1,101.1 L215.6,99.5 L216.0,96.4 L216.9,93.0 L217.8,90.4 L218.1,93.9 L218.6,95.4 L219.5,92.4 L220.0,87.6 L220.4,87.6 L221.3,87.7 L222.2,88.0 L222.6,89.7 L223.0,89.8 L223.9,93.8 L224.5,102.2 L224.8,102.2 L225.1,106.5 L225.7,117.1 L226.5,128.8 L227.0,133.5 L227.4,137.4 L228.0,122.5 L228.7,124.8 L229.5,126.5 L230.2,132.4 L230.9,137.9 L231.7,145.2 L232.1,139.5 L232.4,138.8 L232.7,140.1 L233.1,139.6 L233.9,134.6 L234.6,133.4 L235.3,123.4 L236.0,124.5 L236.8,128.5 L237.2,125.5 L237.5,122.1 L238.2,122.2 L239.0,115.0 L239.7,108.3 L240.4,102.4 L241.2,99.6 L241.6,98.3 L241.9,97.0 L242.2,93.1 L242.6,94.9 L243.1,93.5" fill="none" stroke="#e6b02c" stroke-width="1.25" stroke-linejoin="round"/>
<path d="M23.6,65.7 L24.4,62.4 L24.8,60.2 L25.1,59.5 L25.4,61.4 L25.8,65.0 L26.6,67.2 L27.3,74.8 L28.0,76.2 L28.8,79.2 L29.5,83.2 L29.8,85.8 L30.2,92.0 L30.9,99.6 L31.7,111.0 L32.4,117.5 L33.1,111.8 L33.9,112.1 L34.3,112.1 L34.6,109.8 L34.9,107.8 L35.3,105.4 L36.1,103.0 L36.8,98.9 L37.5,102.6 L38.2,104.2 L39.0,109.4 L39.4,106.1 L39.7,109.5 L40.4,110.3 L41.2,110.1 L41.9,103.1 L42.6,98.8 L43.4,93.7 L43.8,92.3 L44.1,91.7 L44.4,95.2 L44.8,90.0 L45.5,95.4 L46.3,90.4 L47.0,89.5 L47.7,84.8 L48.5,86.3 L48.9,88.4 L49.2,89.3 L49.9,91.2 L50.7,95.0 L51.4,95.0 L52.1,100.1 L52.8,111.6 L53.3,114.8 L53.6,116.5 L53.9,120.2 L54.3,120.8 L55.0,123.8 L55.8,121.5 L56.5,118.4 L57.2,115.6 L58.0,119.0 L58.4,117.4 L58.7,118.7 L59.0,118.1 L59.4,117.3 L60.1,115.1 L60.9,112.2 L61.6,113.9 L62.3,116.5 L63.1,112.3 L63.4,111.7 L63.8,105.8 L64.5,101.3 L65.3,92.1 L66.0,87.9 L66.7,82.7 L67.4,86.0 L67.9,89.9 L68.2,88.5 L68.5,89.2 L68.9,91.6 L69.6,94.4 L70.4,96.2 L71.1,95.5 L71.8,92.9 L72.6,89.9 L73.0,85.9 L73.3,81.9 L74.0,70.0 L74.7,68.3 L75.5,71.2 L76.2,72.2 L76.9,78.0 L77.4,80.1 L77.7,81.2 L78.0,78.2 L78.4,73.0 L79.1,69.9 L79.9,66.6 L80.6,58.3 L81.3,54.4 L82.0,58.2 L82.5,65.2 L82.8,65.0 L83.5,74.2 L84.2,76.3 L85.0,74.5 L85.7,68.0 L86.4,75.3 L87.2,80.2 L87.5,87.1 L87.9,93.0 L88.6,97.1 L89.3,99.8 L90.1,98.2 L90.8,101.7 L91.5,103.8 L92.0,106.4 L92.3,105.7 L92.6,107.0 L93.0,108.1 L93.7,111.5 L94.5,110.5 L95.2,113.6 L95.9,112.9 L96.6,110.4 L97.0,115.1 L97.4,114.3 L98.0,138.1 L98.3,134.9 L98.7,130.0 L99.5,125.9 L100.2,119.1 L100.9,115.7 L101.6,118.1 L102.4,119.4 L102.8,118.5 L103.1,119.9 L103.8,120.0 L104.6,122.1 L105.3,114.9 L106.0,119.4 L106.8,118.6 L107.2,115.4 L107.5,114.7 L107.8,116.3 L108.2,125.3 L108.9,124.0 L109.7,125.9 L110.4,122.5 L111.1,129.3 L111.9,126.4 L112.3,128.0 L112.6,127.5 L113.3,126.8 L114.1,128.9 L114.8,131.1 L115.5,132.7 L116.2,133.8 L116.7,134.5 L117.0,135.0 L117.3,135.6 L117.7,136.8 L118.4,139.5 L119.2,136.7 L119.9,137.5 L120.6,141.9 L121.4,141.1 L121.8,141.8 L122.1,142.3 L122.4,142.6 L122.8,145.7 L123.5,143.5 L124.3,146.8 L125.0,146.7 L125.7,148.4 L126.5,143.6 L126.8,143.5 L127.2,140.1 L127.9,139.8 L128.7,146.7 L129.4,146.0 L130.1,152.9 L130.8,147.8 L131.3,146.7 L131.6,145.1 L131.9,144.7 L132.3,144.2 L133.0,145.1 L133.8,141.6 L134.5,139.1 L135.2,139.4 L136.0,140.4 L136.3,135.8 L136.7,138.6 L137.4,138.7 L138.1,145.2 L138.9,147.6 L139.6,157.8 L140.3,155.8 L140.8,158.4 L141.1,157.8 L141.4,152.8 L141.8,153.3 L142.5,142.4 L143.3,136.2 L144.0,135.8 L144.7,128.7 L145.4,127.7 L145.9,121.4 L146.2,128.2 L146.9,113.5 L147.6,116.5 L148.4,112.0 L149.1,113.8 L149.8,111.9 L150.6,114.7 L150.9,117.0 L151.3,115.9 L152.0,116.5 L152.7,115.5 L153.5,111.3 L154.2,106.3 L154.9,101.0 L155.4,98.5 L155.7,92.9 L156.0,91.7 L156.4,94.9 L157.1,90.2 L157.9,87.5 L158.6,85.5 L159.3,87.7 L160.0,90.1 L160.4,92.1 L160.8,87.3 L161.5,88.8 L162.2,85.4 L163.0,84.2 L163.7,76.7 L164.4,79.9 L164.9,84.5 L165.2,86.1 L165.5,87.4 L165.9,85.5 L166.6,91.4 L167.3,91.6 L168.1,93.1 L168.8,94.2 L169.5,95.4 L169.9,106.2 L170.3,111.5 L171.0,116.0 L171.7,115.5 L172.5,118.1 L173.2,117.8 L174.0,128.3 L174.4,135.3 L174.7,139.8 L175.0,141.3 L175.5,146.5 L176.2,149.6 L176.9,153.6 L177.6,156.5 L178.4,155.2 L179.1,155.3 L179.5,156.1 L179.8,155.2 L180.6,151.2 L181.3,151.8 L182.0,153.7 L182.8,148.6 L183.5,150.6 L184.2,144.7 L184.5,142.9 L184.9,141.0 L185.7,141.9 L186.4,143.4 L187.1,145.5 L187.9,145.4 L188.6,144.9 L189.0,146.3 L189.3,144.9 L189.6,144.7 L190.1,146.0 L190.8,138.2 L191.5,139.2 L192.2,138.8 L193.0,139.4 L193.7,137.9 L194.1,135.0 L194.4,132.9 L195.2,124.6 L195.9,119.2 L196.6,114.1 L197.4,110.1 L198.1,94.5 L198.5,83.3 L199.1,82.6 L199.7,88.7 L200.3,103.3 L201.0,109.6 L201.7,105.9 L202.5,95.8 L202.9,82.3 L203.3,67.2 L203.8,54.1 L204.2,67.9 L204.7,88.4 L205.1,95.7 L205.5,93.3 L206.1,92.7 L206.8,82.9 L207.6,84.0 L208.0,80.4 L208.3,78.5 L208.6,78.1 L209.0,83.0 L209.8,84.6 L210.5,85.3 L211.2,82.2 L212.0,80.7 L212.7,77.5 L213.1,76.1 L213.4,77.5 L213.7,76.8 L214.1,74.8 L214.9,79.4 L215.6,87.2 L216.3,86.7 L217.1,91.8 L217.8,89.2 L218.1,91.6 L218.5,84.9 L219.3,85.7 L220.0,78.5 L220.7,71.3 L221.4,78.2 L222.2,82.7 L222.6,79.2 L222.9,78.3 L223.2,77.0 L223.6,74.8 L224.4,76.3 L225.1,82.2 L225.8,114.1 L226.6,117.7 L227.3,121.2 L227.7,121.3 L228.0,121.4 L228.7,124.3 L229.5,124.4 L230.2,134.7 L230.9,137.7 L231.7,143.2 L232.1,139.2 L232.4,138.5 L232.7,137.3 L233.1,140.7 L233.9,133.4 L234.6,129.7 L235.3,123.7 L236.0,122.9 L236.8,127.2 L237.2,124.9 L237.5,122.4 L238.2,121.4 L239.0,113.4 L239.7,110.6 L240.4,101.5 L241.2,97.2 L241.6,93.0 L241.9,90.4 L242.2,90.3 L242.6,85.5 L243.1,83.3 L243.7,86.5" fill="none" stroke="#1b64a0" stroke-width="1.25" stroke-linejoin="round"/>
<path d="M23.6,68.2 L24.4,69.5 L24.8,69.6 L25.1,68.1 L25.4,68.4 L25.8,68.5 L26.6,69.5 L27.3,70.2 L28.0,72.5 L28.8,72.1 L29.5,77.8 L29.8,83.4 L30.2,86.0 L30.9,92.2 L31.7,95.1 L32.4,92.9 L33.1,88.6 L33.9,92.2 L34.3,87.9 L34.6,90.0 L34.9,91.3 L35.3,91.8 L36.1,96.8 L36.8,98.9 L37.5,95.7 L38.2,93.3 L39.0,89.1 L39.4,86.7 L39.7,84.1 L40.4,79.8 L41.2,77.0 L41.9,81.8 L42.6,76.0 L43.4,75.0 L43.8,71.1 L44.1,70.5 L44.4,75.0 L44.8,74.3 L45.5,80.8 L46.3,89.9 L47.0,87.2 L47.7,92.0 L48.5,89.3 L48.9,93.8 L49.2,95.2 L49.9,95.7 L50.7,98.2 L51.4,100.4 L52.1,98.4 L52.8,100.2 L53.3,98.4 L53.6,99.0 L53.9,104.2 L54.3,100.0 L55.0,105.0 L55.8,105.7 L56.5,109.3 L57.2,107.8 L58.0,112.5 L58.4,108.3 L58.7,109.8 L59.0,108.5 L59.4,104.9 L60.1,100.7 L60.9,96.5 L61.6,97.5 L62.3,94.6 L63.1,95.3 L63.4,92.5 L63.8,95.9 L64.5,97.8 L65.3,100.8 L66.0,102.0 L66.7,99.2 L67.4,93.8 L67.9,91.9 L68.2,91.6 L68.5,90.3 L68.9,89.6 L69.6,88.9 L70.4,87.2 L71.1,88.4 L71.8,89.4 L72.6,92.4 L73.0,93.1 L73.3,95.6 L74.0,99.5 L74.7,97.8 L75.5,100.1 L76.2,100.3 L76.9,93.8 L77.4,94.4 L77.7,93.3 L78.0,90.9 L78.4,87.1 L79.1,91.1 L79.9,87.4 L80.6,88.7 L81.3,92.7 L82.0,94.4 L82.5,95.3 L82.8,97.9 L83.5,100.9 L84.2,103.2 L85.0,103.8 L85.7,104.0 L86.4,106.7 L87.2,103.9 L87.5,107.7 L87.9,107.1 L88.6,106.3 L89.3,104.2 L90.1,104.5 L90.8,101.0 L91.5,95.1 L92.0,93.0 L92.3,86.8 L92.6,85.5 L93.0,86.7 L93.7,84.9 L94.5,83.3 L95.2,83.0 L95.9,89.5 L96.6,86.5 L97.0,84.1 L97.4,81.6 L98.0,81.5 L98.3,82.2 L98.7,83.3 L99.5,91.9 L100.2,95.7 L100.9,103.7 L101.6,111.1 L102.4,111.3 L102.8,114.6 L103.1,109.4 L103.8,112.4 L104.6,114.5 L105.3,116.6 L106.0,113.8 L106.8,109.5 L107.2,103.5 L107.5,100.9 L107.8,101.4 L108.2,98.2 L108.9,94.2 L109.7,94.8 L110.4,93.8 L111.1,97.4 L111.9,100.1 L112.3,103.2 L112.6,106.6 L113.3,103.8 L114.1,101.4 L114.8,95.1 L115.5,93.3 L116.2,92.8 L116.7,98.3 L117.0,98.9 L117.3,98.2 L117.7,98.5 L118.4,101.5 L119.2,102.0 L119.9,105.7 L120.6,106.2 L121.4,112.1 L121.8,109.2 L122.1,110.0 L122.4,109.4 L122.8,106.3 L123.5,110.8 L124.3,108.2 L125.0,109.0 L125.7,114.5 L126.5,114.0 L126.8,123.5 L127.2,118.8 L128.1,115.4 L128.7,110.3 L129.4,112.6 L130.1,108.7 L130.8,101.0 L131.3,104.2 L131.6,98.4 L131.9,97.1 L132.3,99.2 L133.0,99.1 L133.8,96.9 L134.5,94.0 L135.2,96.5 L136.0,100.6 L136.3,100.2 L136.7,99.0 L137.4,99.4 L138.1,98.2 L138.9,99.3 L139.6,101.5 L140.3,106.7 L140.8,108.6 L141.1,110.9 L141.4,116.0 L141.8,115.3 L142.5,119.8 L143.5,124.6 L144.0,127.8 L144.6,127.4 L145.2,124.9 L145.7,125.9 L146.5,113.7 L146.9,106.9 L147.6,103.4 L148.4,103.1 L149.1,105.5 L149.8,100.9 L150.6,93.9 L150.9,91.4 L151.3,88.6 L152.0,87.6 L152.7,87.8 L153.2,80.0 L153.8,78.0 L154.4,82.4 L154.9,90.9 L155.4,105.9 L155.7,119.8 L156.0,121.1 L156.4,122.9 L157.1,123.1 L157.9,119.8 L158.6,122.0 L159.3,120.1 L160.0,125.4 L160.4,123.4 L160.8,126.1 L161.5,126.5 L162.2,124.6 L163.0,126.7 L163.7,120.0 L164.4,118.5 L164.9,116.1 L165.2,116.3 L165.5,115.6 L165.9,114.3 L166.6,111.7 L167.3,106.6 L168.1,111.0 L168.8,109.0 L169.5,114.7 L169.9,114.8 L170.3,114.0 L171.0,117.3 L171.7,115.1 L172.5,114.9 L173.2,110.6 L173.9,110.3 L174.6,108.4 L175.0,111.1 L175.4,108.2 L176.1,106.0 L176.8,108.2 L177.6,114.4 L178.4,116.1 L179.1,116.9 L179.5,117.4 L179.8,116.5 L180.6,118.6 L181.3,121.7 L182.0,120.0 L182.8,119.7 L183.5,119.9 L184.2,121.9 L184.5,122.7 L184.9,122.1 L185.7,125.2 L186.4,126.2 L187.1,126.5 L187.9,129.8 L188.6,130.8 L189.0,130.1 L189.3,131.9 L189.6,131.4 L190.1,125.3 L190.8,128.6 L191.5,129.2 L192.2,131.6 L193.0,127.8 L193.7,126.0 L194.1,124.9 L194.4,126.1 L195.2,128.2 L195.9,132.1 L196.6,135.9 L197.4,136.7 L198.1,138.1 L198.5,138.8 L198.8,139.5 L199.1,138.4 L199.5,136.3 L200.3,138.3 L201.0,134.5 L201.7,133.2 L202.5,133.9 L203.2,133.2 L203.6,137.9 L203.9,138.1 L204.7,137.0 L205.4,133.6 L206.1,129.7 L206.8,130.5 L207.6,127.2 L208.0,122.4 L208.3,121.1 L208.6,123.9 L209.0,118.8 L209.8,117.3 L210.5,115.9 L211.2,118.7 L212.0,119.4 L212.7,119.8 L213.1,117.2 L213.4,118.5 L213.7,119.2 L214.1,121.0 L214.9,124.4 L215.6,123.1 L216.3,127.4 L217.1,133.5 L217.8,136.4 L218.1,142.9 L218.5,141.6 L219.3,142.8 L220.0,140.7 L220.7,134.9 L221.4,126.8 L222.2,124.8 L222.6,125.8 L222.9,127.7 L223.2,129.6 L223.6,132.0 L224.4,138.7 L225.1,144.0 L225.8,139.8 L226.6,138.4 L227.3,140.0 L227.7,138.0 L228.0,139.9 L228.7,135.3 L229.5,139.9 L230.2,141.5 L230.9,137.2 L231.7,139.9 L232.1,137.1 L232.4,137.8 L232.7,141.0 L233.1,140.1 L233.9,140.4 L234.6,140.6 L235.3,139.6 L236.0,141.7 L236.8,135.7 L237.2,136.6 L237.5,137.4 L238.2,133.0 L239.0,133.7 L239.7,133.0 L240.4,131.5 L241.2,129.1 L241.6,135.3 L241.9,136.6 L242.2,137.9 L242.6,138.6 L243.3,135.7" fill="none" stroke="#c83a55" stroke-width="1.25" stroke-linejoin="round"/>
<path d="M23.6,80.8 L24.4,80.3 L24.8,75.9 L25.1,75.7 L25.4,76.9 L25.8,81.4 L26.6,82.1 L27.3,87.9 L28.0,88.9 L28.8,89.6 L29.5,91.3 L29.8,92.5 L30.2,96.3 L30.9,102.6 L31.7,123.2 L32.4,131.2 L33.1,132.5 L33.9,138.4 L34.3,134.9 L34.6,134.5 L34.9,132.5 L35.3,129.7 L36.1,126.2 L36.8,118.9 L37.5,121.5 L38.2,115.4 L39.0,120.2 L39.4,117.6 L39.7,125.4 L40.4,130.8 L41.2,123.9 L41.9,119.9 L42.6,114.8 L43.4,112.6 L43.8,106.0 L44.1,101.8 L44.4,104.6 L44.8,98.9 L45.5,99.5 L46.3,96.0 L47.0,92.9 L47.7,94.5 L48.5,93.3 L48.9,94.4 L49.2,96.2 L49.9,98.5 L50.7,101.5 L51.4,101.1 L52.1,107.5 L52.8,108.7 L53.3,111.9 L53.6,113.0 L53.9,113.4 L54.3,116.1 L55.0,116.1 L55.8,119.3 L56.5,114.3 L57.2,101.0 L57.7,94.5 L58.1,101.1 L58.7,109.9 L59.0,112.5 L59.4,116.8 L60.1,119.4 L60.9,119.4 L61.6,119.4 L62.3,116.2 L63.1,114.6 L63.4,112.9 L63.8,114.9 L64.5,109.1 L65.3,103.8 L66.0,96.9 L66.7,97.3 L67.4,99.2 L67.9,101.0 L68.2,104.3 L68.5,105.0 L68.9,105.7 L69.6,105.2 L70.4,109.9 L71.1,110.5 L71.8,108.6 L72.6,110.4 L73.0,107.1 L73.3,105.4 L74.0,96.2 L74.7,94.3 L75.5,90.0 L76.2,81.8 L76.9,84.5 L77.4,90.1 L77.7,92.3 L78.0,93.7 L78.4,98.9 L79.1,87.6 L79.9,82.6 L80.6,73.9 L81.3,72.9 L82.0,78.0 L82.5,84.0 L82.8,86.2 L83.5,91.8 L84.2,95.8 L85.0,103.7 L85.7,107.3 L86.4,113.3 L87.2,114.2 L87.5,114.9 L87.9,117.3 L88.6,114.1 L89.3,120.4 L90.1,117.4 L90.8,122.0 L91.5,127.9 L92.0,129.8 L92.3,130.5 L92.6,132.4 L93.0,132.7 L93.7,141.8 L94.5,135.6 L95.2,132.2 L95.9,127.1 L96.6,133.4 L97.0,135.1 L97.4,139.0 L98.0,157.0 L98.3,155.0 L98.7,152.3 L99.5,148.7 L100.2,139.0 L100.9,132.8 L101.6,124.1 L102.4,124.8 L102.8,126.3 L103.1,126.6 L103.8,127.5 L104.6,130.7 L105.3,129.7 L106.0,133.2 L106.8,136.3 L107.2,135.1 L107.5,135.7 L107.8,137.5 L108.2,141.7 L108.9,140.4 L109.7,143.3 L110.4,140.7 L111.1,142.4 L111.9,140.2 L112.3,141.6 L112.6,141.0 L113.3,141.4 L114.1,145.2 L114.8,146.2 L115.5,149.5 L116.2,148.6 L116.7,151.1 L117.0,151.7 L117.3,151.7 L117.7,152.1 L118.4,155.6 L119.2,153.9 L119.9,155.9 L120.6,159.8 L121.4,159.3 L121.8,159.9 L122.1,159.7 L122.4,160.0 L122.8,163.8 L123.5,161.6 L124.3,158.1 L125.0,164.6 L125.7,161.4 L126.5,157.7 L126.8,156.1 L127.2,151.4 L127.9,158.9 L128.7,160.3 L129.4,165.0 L130.1,174.5 L130.6,175.3 L131.0,169.2 L131.6,163.3 L131.9,162.7 L132.3,161.8 L133.0,162.3 L133.8,158.0 L134.5,159.6 L135.2,156.3 L136.0,156.7 L136.3,149.8 L136.7,151.3 L137.4,151.6 L138.1,160.8 L138.9,166.0 L139.6,178.1 L140.3,165.2 L140.8,162.9 L141.1,159.5 L141.4,155.3 L141.8,150.8 L142.5,145.6 L143.3,142.0 L144.0,140.0 L144.7,134.1 L145.4,139.7 L145.9,141.8 L146.2,142.6 L146.9,145.2 L147.6,147.8 L148.4,145.1 L149.1,142.1 L149.8,135.7 L150.6,132.9 L150.9,134.7 L151.3,141.8 L152.0,146.1 L152.7,154.6 L153.5,162.5 L154.2,163.1 L154.9,152.3 L155.4,145.7 L155.7,139.4 L156.0,133.0 L156.4,125.5 L157.1,113.5 L157.9,109.0 L158.6,105.7 L159.3,108.6 L160.0,114.1 L160.4,111.0 L160.8,108.8 L161.5,107.7 L162.2,103.0 L163.0,99.8 L163.7,105.3 L164.4,105.9 L164.9,113.2 L165.2,111.9 L165.5,113.2 L165.9,112.7 L166.6,120.8 L167.5,123.4 L168.1,120.8 L168.8,117.4 L169.5,121.0 L169.9,130.2 L170.3,129.9 L171.0,140.4 L171.7,140.9 L172.5,140.9 L173.2,135.1 L174.0,140.2 L174.4,147.5 L174.7,152.7 L175.0,154.8 L175.5,162.1 L176.2,171.0 L176.9,174.6 L177.6,178.3 L178.4,177.5 L179.1,172.9 L179.5,171.9 L179.8,172.4 L180.6,169.6 L181.3,169.5 L182.0,165.4 L182.8,163.2 L183.5,164.3 L184.2,158.6 L184.5,155.9 L184.9,151.1 L185.7,151.1 L186.4,148.5 L187.1,152.7 L187.9,152.7 L188.6,153.1 L189.0,151.5 L189.3,149.6 L189.6,150.2 L190.1,153.8 L190.8,151.7 L191.5,156.8 L192.2,157.5 L193.0,153.0 L193.7,146.8 L194.1,141.9 L194.4,140.2 L195.2,132.0 L195.9,124.4 L196.8,126.0 L197.2,124.0 L197.6,115.4 L198.5,110.0 L199.4,103.4 L199.8,106.9 L200.3,107.9 L201.1,117.4 L201.7,116.5 L202.0,120.5 L202.9,115.1 L203.8,108.0 L204.2,105.2 L204.6,103.7 L205.5,106.1 L206.1,109.3 L206.4,111.2 L206.7,110.4 L207.3,113.2 L208.1,107.7 L208.6,102.2 L209.0,103.0 L209.9,105.2 L210.8,110.7 L211.2,111.0 L211.6,108.2 L212.5,100.6 L213.1,97.0 L213.4,97.6 L213.7,99.4 L214.3,100.1 L215.1,107.1 L215.6,103.8 L216.0,100.6 L216.9,96.5 L217.8,95.3 L218.1,98.0 L218.6,101.2 L219.5,97.1 L220.0,92.3 L220.4,93.8 L221.3,89.0 L222.2,89.4 L222.6,92.7 L223.0,94.0 L223.9,95.0 L224.5,103.7 L224.8,108.1 L225.1,112.3 L225.7,120.1 L226.5,131.3 L227.3,134.5 L227.7,135.3 L228.0,142.3 L228.7,142.1 L229.5,148.4 L230.2,156.8 L230.9,165.2 L231.7,166.7 L232.1,164.2 L232.4,163.6 L232.7,162.5 L233.1,162.8 L233.9,158.5 L234.6,153.6 L235.3,149.8 L236.0,147.7 L236.8,148.6 L237.2,144.8 L237.5,144.2 L238.2,140.4 L239.0,129.3 L239.7,114.2 L240.4,107.4 L241.2,102.1 L241.6,100.1 L241.9,98.2 L242.2,96.4 L242.6,97.0 L243.3,108.5" fill="none" stroke="#6fa236" stroke-width="1.25" stroke-linejoin="round"/>
<path d="M305.9,65.8 L306.2,62.2 L307.0,66.6 L307.5,61.0 L307.9,66.7 L308.7,69.7 L309.6,71.1 L310.0,69.5 L310.5,72.8 L311.3,73.1 L312.2,76.6 L312.6,81.5 L313.1,81.9 L314.0,90.3 L314.5,94.3 L314.8,94.6 L315.1,96.8 L315.7,104.7 L316.6,107.8 L317.0,110.5 L317.5,108.1 L318.3,111.9 L319.2,113.6 L319.6,112.0 L320.1,107.9 L320.9,107.0 L321.4,98.0 L321.8,99.3 L322.7,91.5 L323.6,90.9 L324.0,89.0 L324.4,88.1 L325.3,91.1 L325.9,84.5 L326.2,84.1 L326.5,89.3 L327.1,88.7 L327.9,83.0 L328.4,86.5 L328.8,85.3 L329.7,87.8 L330.5,90.2 L331.0,92.5 L331.4,92.1 L332.3,100.2 L332.9,101.2 L333.2,101.7 L334.0,108.1 L334.8,112.3 L335.4,119.4 L336.3,122.6 L336.7,129.8 L337.0,136.6 L337.3,137.7 L337.8,141.9 L338.5,135.9 L339.2,134.3 L340.0,130.4 L340.7,127.5 L341.4,125.6 L341.7,125.1 L342.1,127.2 L342.9,123.7 L343.6,118.9 L344.3,122.0 L345.1,113.1 L345.8,115.3 L346.2,111.9 L346.5,109.7 L347.1,100.9 L347.4,99.2 L348.0,97.0 L348.9,95.1 L349.4,91.2 L349.7,91.3 L350.6,97.0 L351.5,95.4 L351.9,94.0 L352.4,90.8 L353.2,89.0 L353.8,85.3 L354.1,85.0 L354.4,87.6 L355.0,85.4 L355.9,81.1 L356.3,79.5 L356.7,77.4 L357.6,73.2 L358.5,80.8 L358.9,81.2 L359.3,80.9 L360.2,78.6 L360.8,74.1 L361.1,72.0 L362.0,75.4 L362.8,69.8 L363.3,70.8 L363.7,74.5 L364.6,80.5 L365.2,77.5 L365.5,76.8 L365.8,79.1 L366.3,81.7 L367.2,84.6 L367.7,83.7 L368.1,83.3 L369.0,87.2 L369.8,88.9 L370.3,88.3 L370.7,86.9 L371.6,91.8 L372.4,89.2 L372.8,86.6 L373.3,87.7 L374.2,89.0 L374.7,90.8 L375.1,90.2 L375.9,92.8 L376.8,94.5 L377.2,98.4 L377.7,98.9 L378.6,100.7 L379.4,103.5 L379.8,107.5 L380.3,104.9 L381.2,115.1 L381.7,111.6 L382.0,120.2 L382.3,121.0 L382.9,118.8 L383.8,120.2 L384.2,122.3 L384.7,121.8 L385.5,124.5 L386.4,119.6 L386.8,119.7 L387.3,121.1 L388.0,115.9 L388.6,121.4 L389.5,117.8 L390.2,117.7 L390.6,119.2 L390.9,121.7 L391.7,121.1 L392.4,122.2 L393.1,122.1 L393.9,122.7 L394.6,125.3 L395.0,123.7 L395.3,124.3 L395.6,127.4 L396.1,126.2 L396.8,127.1 L397.5,128.7 L398.2,129.6 L399.0,130.5 L399.7,132.4 L400.1,131.9 L400.4,132.2 L400.7,132.7 L401.2,132.4 L401.9,138.3 L402.6,139.4 L403.4,141.1 L404.1,142.7 L404.8,143.0 L405.1,145.4 L405.5,143.9 L406.3,144.4 L407.0,145.7 L407.7,147.5 L408.5,145.5 L409.2,145.3 L409.6,144.9 L409.9,144.2 L410.2,144.8 L410.7,145.6 L411.4,149.8 L412.1,145.6 L412.8,144.3 L413.6,139.7 L414.3,137.8 L414.6,136.8 L415.0,133.3 L415.8,133.8 L416.5,134.2 L417.2,137.6 L418.0,138.0 L418.7,137.3 L419.1,144.3 L419.4,146.3 L419.7,143.9 L420.1,148.3 L420.9,153.1 L421.6,157.3 L422.3,159.2 L423.1,156.4 L423.8,153.0 L424.2,154.4 L424.5,148.1 L425.3,149.3 L426.0,145.0 L426.7,140.6 L427.4,132.9 L428.2,125.3 L428.6,123.4 L428.9,121.5 L429.2,122.2 L429.6,124.5 L430.0,112.2 L430.5,102.2 L431.1,101.0 L431.8,96.1 L432.6,95.9 L433.3,92.5 L433.7,94.1 L434.0,91.7 L434.3,91.0 L434.7,89.0 L435.5,89.9 L436.2,93.1 L436.9,94.0 L437.7,93.0 L438.4,92.2 L438.7,90.3 L439.1,94.9 L439.9,92.4 L440.6,93.6 L441.3,93.1 L442.0,86.1 L442.8,87.8 L443.2,85.7 L443.5,90.2 L443.8,90.8 L444.2,88.7 L445.0,95.5 L445.7,94.2 L446.4,96.5 L447.2,98.2 L447.9,100.3 L448.2,101.2 L448.6,100.7 L449.3,105.1 L450.1,106.1 L450.8,108.2 L451.5,108.2 L452.3,112.4 L452.7,112.9 L453.0,114.3 L453.3,112.2 L454.0,110.3 L454.6,113.8 L455.1,118.7 L455.9,119.5 L456.2,122.7 L457.3,127.5 L457.8,131.5 L458.4,136.3 L459.0,141.9 L459.7,146.3 L460.5,153.5 L460.9,155.5 L461.6,159.2 L462.2,157.7 L462.7,158.7 L463.5,158.4 L463.8,157.6 L464.1,158.2 L464.7,161.2 L465.4,160.7 L466.0,161.8 L466.6,162.2 L467.3,162.5 L468.2,162.5 L468.5,158.4 L469.2,160.8 L469.8,161.1 L470.4,164.7 L471.1,162.2 L471.7,160.9 L472.5,159.6 L473.0,159.0 L473.6,159.6 L474.2,155.8 L474.7,153.4 L475.5,147.2 L476.1,143.4 L476.8,138.4 L477.4,132.9 L478.1,126.5 L478.7,124.9 L479.6,117.2 L479.9,111.2 L480.5,107.9 L481.4,96.1 L481.9,99.4 L482.3,102.9 L483.1,111.8 L484.0,114.4 L484.4,115.2 L484.9,111.1 L485.8,102.4 L486.3,98.3 L486.6,95.6 L486.9,92.9 L487.5,92.8 L488.4,93.4 L488.8,101.3 L489.3,102.9 L490.1,108.2 L491.0,100.8 L491.4,96.7 L491.9,95.8 L492.8,99.3 L493.3,98.6 L493.6,102.4 L494.5,95.0 L495.4,91.0 L495.8,89.1 L496.3,95.9 L497.1,95.2 L498.0,97.1 L498.3,89.9 L498.9,91.2 L499.8,87.8 L500.2,93.2 L500.6,92.2 L501.5,90.6 L502.4,81.8 L502.8,81.1 L503.3,79.2 L504.2,72.7 L504.7,75.5 L505.0,75.5 L505.3,77.3 L505.9,80.8 L506.8,96.1 L507.2,103.7 L507.7,113.0 L508.5,130.2 L509.4,139.5 L510.0,143.3 L510.4,146.0 L510.7,146.6 L511.0,147.2 L511.5,148.3 L512.2,147.4 L512.9,148.5 L513.7,146.3 L514.4,147.1 L515.1,144.2 L515.5,143.6 L515.9,142.3 L516.6,143.1 L517.3,138.2 L518.0,138.2 L518.8,131.4 L519.5,126.7 L519.9,123.2 L520.2,125.1 L520.5,130.4 L521.0,130.7 L521.7,126.0 L522.7,97.1 L523.1,95.3 L523.8,92.5 L524.3,92.6 L524.9,90.0" fill="none" stroke="#e6b02c" stroke-width="1.25" stroke-linejoin="round"/>
<path d="M305.6,47.7 L306.4,41.3 L307.1,43.4 L307.5,44.3 L308.1,54.6 L308.7,59.1 L309.3,60.8 L310.0,61.5 L310.8,66.6 L311.5,70.5 L312.2,76.2 L312.6,89.4 L312.9,90.8 L313.2,97.0 L313.7,108.2 L314.4,115.6 L315.1,118.2 L315.9,116.7 L316.6,112.5 L317.3,108.0 L317.6,105.2 L318.1,103.1 L318.8,102.8 L319.2,98.3 L319.6,96.1 L320.1,93.4 L320.9,101.2 L321.4,100.6 L321.8,102.0 L322.7,96.9 L323.6,91.3 L324.0,89.9 L324.4,85.1 L325.3,86.3 L325.9,83.3 L326.2,83.3 L326.5,84.3 L327.1,84.5 L327.9,81.3 L328.4,81.2 L328.8,78.5 L329.7,77.8 L330.5,79.5 L331.0,81.1 L331.4,83.3 L332.3,92.0 L332.9,94.0 L333.2,93.3 L334.0,99.0 L334.9,104.8 L335.6,108.4 L336.3,114.4 L336.7,120.1 L337.0,124.8 L337.3,127.0 L337.8,131.2 L338.5,125.3 L339.2,118.7 L340.0,119.9 L340.7,115.1 L341.4,114.6 L341.7,116.5 L342.1,116.1 L342.9,118.6 L343.6,111.0 L344.3,114.7 L345.1,107.9 L345.8,105.6 L346.2,104.4 L346.5,102.8 L346.8,98.9 L347.3,92.2 L348.0,84.8 L348.7,79.5 L349.4,73.6 L350.2,77.3 L350.9,82.5 L351.2,86.6 L351.6,86.8 L352.4,91.0 L353.1,87.4 L353.8,82.1 L354.6,77.3 L355.3,72.0 L355.7,68.6 L356.0,66.0 L356.3,63.3 L356.7,59.7 L357.5,52.6 L358.2,54.2 L358.9,59.7 L359.7,63.5 L360.4,61.0 L360.8,59.8 L361.1,56.0 L361.9,50.5 L362.6,43.8 L363.3,37.8 L363.8,35.6 L364.2,42.9 L364.8,52.3 L365.2,56.6 L365.5,59.8 L365.8,61.1 L366.2,61.2 L367.0,60.1 L367.7,57.6 L368.4,57.2 L368.9,61.2 L369.4,75.7 L370.0,81.8 L370.6,84.0 L370.9,85.3 L371.3,88.9 L372.1,89.7 L372.8,92.1 L373.5,94.2 L374.3,93.0 L375.0,101.1 L375.3,99.9 L375.7,100.9 L376.8,107.4 L377.2,106.8 L377.9,106.6 L378.6,108.5 L379.4,109.9 L379.8,119.3 L380.1,118.4 L380.4,121.6 L380.8,133.1 L381.6,130.1 L382.2,121.7 L382.9,114.1 L383.6,118.1 L384.4,117.7 L385.1,120.2 L385.5,122.8 L385.8,123.4 L386.1,120.6 L386.6,120.9 L387.3,122.0 L388.0,116.8 L388.8,119.2 L389.5,115.5 L390.2,121.0 L390.6,122.8 L390.9,127.2 L391.7,127.2 L392.4,128.2 L393.1,129.0 L393.9,128.9 L394.6,129.4 L395.0,130.3 L395.3,130.7 L395.6,130.3 L396.1,131.3 L396.8,132.9 L397.5,135.8 L398.2,137.7 L399.0,137.7 L399.7,140.1 L400.1,138.8 L400.4,142.1 L400.7,143.3 L401.1,142.2 L401.8,145.8 L402.5,150.2 L403.3,149.2 L404.0,150.9 L404.7,150.3 L405.1,149.2 L405.5,151.6 L406.2,151.2 L406.9,155.6 L407.6,151.8 L408.4,151.4 L409.1,149.7 L409.8,154.2 L410.5,157.1 L410.8,158.7 L411.3,161.0 L412.0,164.9 L412.7,160.0 L413.5,153.8 L414.2,150.7 L414.9,149.6 L415.3,146.8 L415.6,146.4 L415.9,145.8 L416.4,145.9 L417.1,143.6 L417.8,143.9 L418.5,143.1 L419.3,154.0 L420.0,159.3 L420.4,165.9 L420.7,166.0 L421.5,169.3 L422.2,167.2 L422.9,161.8 L423.6,152.2 L424.4,148.8 L424.8,145.4 L425.1,144.1 L425.4,142.9 L425.8,140.2 L426.7,137.1 L427.4,128.7 L428.2,123.1 L428.6,122.3 L428.9,121.1 L429.2,121.4 L429.6,123.3 L430.4,115.3 L431.1,116.0 L431.8,108.8 L432.6,107.8 L433.3,110.3 L433.7,112.9 L434.0,113.1 L434.3,111.8 L434.7,112.1 L435.5,104.8 L436.2,101.3 L436.9,94.2 L437.7,91.0 L438.4,87.4 L438.7,83.9 L439.1,84.3 L439.9,77.0 L440.6,75.5 L441.3,81.2 L442.0,83.3 L442.8,82.3 L443.2,78.4 L443.5,82.4 L443.8,81.7 L444.2,75.4 L445.0,75.2 L445.7,65.1 L446.4,72.5 L447.2,74.2 L447.9,80.6 L448.2,80.9 L448.6,83.2 L449.3,84.1 L450.1,85.5 L450.8,86.8 L451.5,91.0 L452.3,93.8 L452.7,96.1 L453.0,98.1 L453.3,99.0 L453.7,102.5 L454.5,105.7 L455.2,113.5 L456.0,116.1 L456.7,122.5 L457.1,132.6 L457.5,139.9 L458.2,149.7 L458.9,157.2 L459.6,161.8 L460.4,166.5 L461.1,165.2 L461.8,164.0 L462.2,163.8 L462.6,162.3 L463.3,162.6 L464.0,163.8 L464.8,161.0 L465.5,156.4 L466.2,150.0 L466.9,150.4 L467.3,149.7 L467.7,152.6 L468.4,149.5 L469.1,154.0 L469.9,152.1 L470.6,154.8 L471.3,152.4 L471.7,151.9 L472.1,156.1 L472.8,155.2 L473.5,153.1 L474.2,148.8 L475.0,146.9 L475.7,144.2 L476.4,142.9 L476.8,141.9 L477.2,139.4 L477.9,132.0 L478.6,125.3 L479.4,114.3 L480.1,100.2 L480.8,75.8 L481.3,76.0 L481.7,82.2 L482.3,94.7 L483.0,100.7 L483.7,93.1 L484.5,87.7 L484.9,70.0 L485.3,52.5 L485.8,45.4 L486.1,35.8 L486.4,46.8 L486.7,62.6 L487.1,81.6 L487.5,87.1 L488.1,84.3 L488.8,82.3 L489.6,74.4 L490.3,64.5 L490.7,67.1 L491.2,69.1 L491.6,73.5 L492.1,80.3 L492.5,74.7 L493.2,70.0 L494.0,68.8 L494.7,66.2 L495.4,63.6 L496.1,59.8 L496.4,61.2 L496.9,61.5 L497.6,67.4 L498.3,72.0 L499.1,79.8 L499.8,81.7 L500.5,82.7 L500.9,76.2 L501.3,76.9 L502.0,65.9 L502.7,59.8 L503.4,63.1 L504.2,66.8 L504.9,72.4 L505.6,65.2 L505.9,61.7 L506.4,63.5 L507.1,69.5 L507.8,77.9 L508.6,142.3 L509.3,141.3 L510.0,144.9 L510.4,143.3 L510.7,144.9 L511.0,145.5 L511.5,145.2 L512.2,147.9 L512.9,147.1 L513.7,143.7 L514.4,146.5 L515.1,144.5 L515.5,141.9 L515.9,139.6 L516.6,143.0 L517.3,136.3 L518.0,136.2 L518.8,132.2 L519.5,125.5 L519.9,122.1 L520.2,124.0 L520.5,129.9 L521.0,128.1 L521.7,122.9 L522.4,117.2 L523.2,107.2 L523.9,83.9 L524.6,79.1 L525.1,72.9 L525.5,72.8" fill="none" stroke="#1b64a0" stroke-width="1.25" stroke-linejoin="round"/>
<path d="M305.6,52.9 L306.4,51.7 L307.1,50.4 L307.8,52.9 L308.1,53.8 L308.6,54.6 L309.3,53.2 L310.0,53.4 L310.8,57.3 L311.5,62.2 L312.2,72.1 L312.6,75.9 L312.9,80.9 L313.2,83.7 L313.7,88.2 L314.4,85.8 L315.1,80.1 L315.9,78.7 L316.6,79.8 L317.3,84.7 L317.6,83.0 L318.1,87.1 L318.8,86.5 L319.5,93.2 L320.2,93.7 L321.0,88.0 L321.7,78.4 L322.1,74.5 L322.4,70.5 L322.7,68.0 L323.2,69.7 L323.9,70.0 L324.6,68.1 L325.4,65.1 L326.1,57.0 L326.8,63.4 L327.2,63.7 L327.5,69.8 L328.3,73.2 L329.0,77.3 L329.7,80.0 L330.5,80.2 L331.2,83.1 L331.6,83.2 L331.9,84.4 L332.2,89.2 L332.7,85.1 L333.4,89.2 L334.1,88.8 L334.8,92.0 L335.6,93.5 L336.3,94.1 L336.7,94.4 L337.0,95.2 L337.3,96.0 L337.8,96.3 L338.5,101.3 L339.2,97.7 L340.0,101.4 L340.7,103.7 L341.4,98.6 L341.7,99.7 L342.1,98.1 L342.9,92.4 L343.6,89.1 L344.3,86.7 L345.1,87.7 L345.8,89.1 L346.2,94.3 L346.5,95.8 L346.8,94.0 L347.3,89.2 L348.0,88.6 L348.7,87.2 L349.4,87.2 L350.2,81.6 L350.9,82.9 L351.2,81.3 L351.6,80.2 L352.4,76.2 L353.1,79.9 L353.8,73.0 L354.6,76.2 L355.3,75.5 L355.7,79.3 L356.0,80.6 L356.3,82.7 L356.7,82.8 L357.5,84.1 L358.2,81.3 L358.9,79.3 L359.7,75.0 L360.4,78.6 L360.8,71.3 L361.1,71.8 L361.9,79.6 L362.6,81.6 L363.3,84.9 L364.0,89.8 L364.8,89.7 L365.2,92.9 L365.5,94.1 L365.8,96.3 L366.2,97.5 L367.0,98.0 L367.7,99.6 L368.4,95.7 L369.2,97.4 L369.9,97.0 L370.3,100.2 L370.6,99.4 L370.9,100.0 L371.3,101.7 L372.1,99.6 L372.8,91.7 L373.5,86.3 L374.3,80.3 L375.0,74.0 L375.3,76.0 L375.7,68.9 L376.5,75.1 L377.2,73.3 L377.9,74.6 L378.6,75.3 L379.4,70.5 L379.8,75.6 L380.1,75.8 L380.4,76.4 L380.8,76.7 L381.6,75.0 L382.0,85.8 L382.3,89.6 L382.9,101.5 L383.8,105.8 L384.2,108.2 L384.7,111.1 L385.5,112.5 L386.1,112.8 L386.8,114.8 L387.3,116.8 L388.0,113.0 L388.6,109.5 L389.0,106.7 L389.9,98.9 L390.8,93.2 L391.2,88.1 L391.6,86.0 L392.5,89.0 L393.1,88.8 L393.4,88.0 L393.7,90.2 L394.3,92.2 L395.1,104.3 L395.6,97.0 L396.0,94.6 L396.9,91.0 L397.8,88.4 L398.2,91.6 L398.6,92.3 L399.5,96.6 L400.1,97.5 L400.4,96.1 L400.7,97.8 L401.2,101.2 L402.1,102.6 L402.6,104.9 L403.0,104.7 L403.9,104.0 L404.7,108.2 L405.1,110.7 L405.6,110.6 L406.5,112.2 L407.0,112.9 L407.7,119.2 L408.0,120.4 L408.3,121.0 L409.1,121.2 L409.6,120.9 L410.2,111.9 L410.8,112.7 L411.7,102.7 L412.1,104.0 L412.6,99.1 L413.5,93.6 L414.3,91.9 L414.6,90.7 L415.2,94.8 L416.1,89.5 L416.6,93.4 L417.0,93.6 L417.8,93.8 L418.7,94.1 L419.1,93.4 L419.7,93.7 L420.4,96.3 L421.0,97.0 L421.3,97.4 L421.6,99.9 L422.4,106.8 L422.9,111.5 L423.5,117.2 L424.2,119.3 L424.5,126.1 L425.6,131.5 L426.1,129.4 L426.7,134.9 L427.3,132.5 L427.8,127.9 L428.6,112.5 L429.3,96.4 L429.9,98.3 L430.2,105.7 L431.1,95.7 L432.0,91.3 L432.4,89.0 L432.8,84.2 L433.7,77.3 L434.6,69.4 L434.9,69.6 L435.5,66.2 L436.3,74.5 L436.8,78.3 L437.2,80.7 L438.1,95.0 L438.7,104.7 L439.4,117.1 L439.8,124.4 L440.9,127.7 L441.3,125.5 L442.0,123.2 L442.5,123.4 L443.1,123.6 L443.8,128.2 L444.2,130.2 L445.3,126.4 L445.7,125.0 L446.4,114.3 L447.0,109.5 L447.7,105.4 L448.5,101.4 L448.9,102.1 L449.4,108.8 L450.3,118.0 L450.8,113.8 L451.4,114.0 L452.1,112.4 L452.9,111.5 L453.3,109.3 L453.8,110.2 L454.7,106.0 L455.5,111.0 L456.0,113.7 L456.7,105.7 L457.1,109.5 L457.5,107.4 L458.2,102.0 L458.9,109.5 L459.6,110.5 L460.4,113.8 L461.1,116.5 L461.8,115.9 L462.2,118.5 L462.6,117.5 L463.3,120.0 L464.0,120.2 L464.8,123.9 L465.5,119.9 L466.2,121.1 L466.9,125.6 L467.3,124.3 L467.7,123.6 L468.4,125.1 L469.1,127.9 L469.9,134.9 L470.6,134.7 L471.3,133.9 L471.7,134.2 L472.1,130.7 L472.8,134.7 L473.5,138.3 L474.2,130.2 L475.0,125.8 L475.7,122.6 L476.4,130.3 L476.8,129.1 L477.2,133.1 L477.9,135.1 L478.6,138.0 L479.4,140.4 L480.1,144.4 L480.8,143.9 L481.5,144.2 L481.9,140.7 L482.3,141.5 L483.0,139.6 L483.7,143.1 L484.5,142.9 L485.2,138.8 L485.9,137.8 L486.3,132.9 L486.7,135.1 L487.4,129.3 L488.1,130.6 L488.8,126.7 L489.6,124.0 L490.3,120.4 L491.0,121.8 L491.4,118.5 L491.8,119.6 L492.5,117.0 L493.2,114.9 L494.0,121.7 L494.7,117.2 L495.4,116.4 L496.1,114.2 L496.4,112.8 L496.9,117.5 L497.6,121.0 L498.3,126.3 L499.1,132.5 L499.8,137.5 L500.5,144.8 L500.9,143.3 L501.3,137.6 L502.0,140.8 L502.7,128.9 L503.4,128.4 L504.2,120.4 L504.9,127.0 L505.6,130.2 L505.9,132.4 L506.4,133.8 L507.1,142.7 L507.8,144.6 L508.6,143.9 L509.3,139.8 L510.0,142.9 L510.4,141.5 L510.7,142.4 L511.0,143.0 L511.5,141.8 L512.2,142.1 L512.9,144.2 L513.7,143.6 L514.4,145.3 L515.1,141.2 L515.5,142.2 L515.9,144.7 L516.6,142.4 L517.3,141.3 L518.0,142.6 L518.8,144.1 L519.5,143.6 L519.9,143.7 L520.2,143.0 L520.5,140.9 L521.0,139.6 L521.7,135.9 L522.4,135.3 L523.2,133.2 L523.9,137.3 L524.6,139.1 L525.0,137.7 L525.6,138.1" fill="none" stroke="#c83a55" stroke-width="1.25" stroke-linejoin="round"/>
<path d="M305.6,66.9 L306.4,59.0 L307.1,65.4 L307.8,65.6 L308.1,69.1 L308.6,71.2 L309.3,72.7 L310.0,74.3 L310.8,78.7 L311.5,81.9 L312.2,83.7 L312.6,92.5 L312.9,92.5 L313.2,95.3 L313.7,100.6 L314.4,129.4 L315.1,136.6 L315.9,139.8 L316.6,137.3 L317.3,129.1 L317.6,126.1 L318.1,121.4 L318.8,113.7 L319.5,111.5 L320.2,106.9 L321.0,114.3 L321.7,116.7 L322.1,123.0 L322.4,127.0 L322.7,126.8 L323.2,130.1 L323.9,126.8 L324.6,119.8 L325.4,116.2 L326.1,106.5 L326.5,102.5 L327.1,89.9 L327.9,88.0 L328.4,89.5 L328.8,89.6 L329.7,93.4 L330.5,91.2 L331.0,92.4 L331.4,93.8 L332.3,100.6 L332.9,103.8 L333.2,105.8 L334.0,112.1 L334.9,115.3 L335.4,119.4 L335.8,119.7 L336.7,126.6 L337.5,129.7 L337.9,130.9 L338.4,127.6 L339.3,118.8 L340.1,92.2 L340.6,88.1 L341.0,103.9 L341.9,115.0 L342.4,118.2 L342.8,117.4 L343.6,108.6 L344.5,109.5 L344.9,103.2 L345.4,102.9 L346.3,98.8 L347.1,92.4 L347.4,87.2 L348.0,81.6 L348.9,72.7 L349.4,73.6 L349.7,78.1 L350.6,90.2 L351.5,97.6 L351.9,95.2 L352.4,102.2 L353.2,108.1 L353.8,103.5 L354.1,101.2 L354.4,97.6 L355.0,94.0 L355.9,80.7 L356.3,78.8 L356.7,75.7 L357.6,71.8 L358.5,79.7 L358.9,85.0 L359.3,84.0 L360.2,85.0 L360.8,82.0 L361.1,78.6 L362.0,73.2 L362.8,61.8 L363.3,59.2 L363.7,56.0 L364.6,70.0 L365.2,83.9 L365.5,91.3 L365.8,96.1 L366.3,104.3 L367.2,91.1 L367.7,83.0 L368.1,77.8 L369.0,86.1 L369.8,98.9 L370.3,104.1 L370.9,107.9 L371.3,115.1 L372.1,118.2 L372.8,122.2 L373.5,126.6 L374.3,127.6 L375.0,137.9 L375.3,139.3 L375.7,143.5 L376.5,141.9 L377.2,139.0 L377.9,135.2 L378.6,136.5 L379.4,140.5 L379.8,147.1 L380.1,150.0 L380.4,155.2 L380.8,164.3 L381.6,165.7 L382.2,131.8 L382.9,125.4 L383.6,126.4 L384.4,125.2 L385.1,131.3 L385.5,132.5 L385.8,133.9 L386.1,134.7 L386.5,135.3 L387.3,141.5 L388.0,136.8 L388.7,141.1 L389.5,142.0 L390.2,146.5 L390.6,146.4 L390.9,150.5 L391.6,149.6 L392.4,150.1 L393.1,148.2 L393.8,145.6 L394.5,144.6 L395.0,144.6 L395.3,145.1 L395.6,146.6 L396.0,149.1 L396.7,151.6 L397.5,157.0 L398.2,157.1 L398.9,157.6 L399.6,159.3 L400.1,157.3 L400.4,161.1 L400.7,161.8 L401.1,158.5 L401.8,162.9 L402.5,164.6 L403.3,165.1 L404.0,169.5 L404.7,170.5 L405.1,174.8 L405.5,171.2 L406.2,175.3 L406.9,174.1 L407.6,178.8 L408.4,172.3 L409.1,168.2 L409.8,163.8 L410.5,171.2 L410.8,173.9 L411.3,178.8 L412.0,193.3 L412.7,185.5 L413.5,177.8 L414.2,178.4 L414.9,175.7 L415.3,175.1 L415.6,172.9 L415.9,172.3 L416.4,173.2 L417.1,171.9 L417.8,169.8 L418.5,169.1 L419.3,166.7 L420.0,172.5 L420.4,176.4 L420.7,183.3 L421.5,193.2 L422.2,189.6 L422.9,179.3 L423.6,169.2 L424.4,163.7 L424.8,159.9 L425.1,158.0 L425.4,155.7 L425.8,150.6 L426.5,153.1 L427.3,152.3 L428.0,156.8 L428.7,156.2 L429.5,151.4 L429.9,153.8 L430.2,148.2 L430.9,143.7 L431.6,139.8 L432.4,143.6 L433.1,148.4 L433.8,158.1 L434.5,161.3 L434.9,162.6 L435.3,167.0 L436.0,175.0 L436.7,173.7 L437.5,164.7 L438.2,148.2 L438.7,135.4 L439.1,127.3 L439.9,118.8 L440.6,101.7 L441.3,104.8 L442.0,106.2 L442.8,104.3 L443.2,100.9 L443.5,98.6 L443.8,96.6 L444.2,92.2 L445.0,97.2 L445.7,97.2 L446.4,101.7 L447.2,106.8 L447.9,110.0 L448.2,109.3 L448.6,113.5 L449.6,130.0 L450.1,133.4 L450.7,133.0 L451.4,140.7 L452.0,142.5 L452.7,149.6 L453.5,148.1 L454.2,149.9 L454.6,144.4 L454.9,142.4 L455.2,145.9 L455.6,145.1 L456.4,153.1 L457.1,164.3 L457.8,176.0 L458.5,187.3 L459.3,196.6 L459.7,199.4 L460.4,198.0 L461.1,195.8 L461.8,192.8 L462.2,191.5 L462.6,187.6 L463.3,188.0 L464.0,183.4 L464.8,183.6 L465.5,180.0 L466.2,171.4 L466.9,170.7 L467.3,164.9 L467.7,164.2 L468.4,160.2 L469.1,162.2 L469.9,162.7 L470.6,167.0 L471.3,162.8 L471.7,163.6 L472.1,165.8 L472.8,166.5 L473.5,164.4 L474.2,168.1 L475.0,171.4 L475.7,163.7 L476.4,154.5 L476.8,153.6 L477.2,146.8 L477.9,141.2 L478.6,130.5 L479.6,125.1 L479.9,118.2 L480.5,111.4 L481.4,102.4 L481.9,103.4 L482.3,107.4 L483.1,117.4 L484.0,123.4 L484.4,123.9 L484.9,119.3 L485.8,113.0 L486.3,106.8 L486.6,103.3 L486.9,100.2 L487.5,98.1 L488.4,100.8 L488.8,105.5 L489.3,109.8 L490.1,114.8 L491.0,106.6 L491.4,107.6 L491.9,102.5 L492.8,111.0 L493.3,109.7 L493.6,115.7 L494.5,103.3 L495.4,95.7 L495.8,98.3 L496.3,100.5 L497.1,107.5 L498.0,100.9 L498.3,101.2 L498.9,96.9 L499.8,93.0 L500.2,97.4 L500.6,102.0 L501.5,98.7 L502.4,92.5 L502.8,85.8 L503.3,88.4 L504.2,79.1 L504.7,81.5 L505.0,82.0 L505.3,84.4 L505.9,87.9 L506.8,100.8 L507.2,114.0 L507.7,117.4 L508.5,135.5 L509.3,153.3 L510.0,154.0 L510.4,157.3 L510.7,158.1 L511.0,159.2 L511.5,160.3 L512.2,175.2 L512.9,185.4 L513.7,185.9 L514.4,186.2 L515.1,183.7 L515.5,180.2 L515.9,178.9 L516.6,178.3 L517.3,170.7 L518.0,167.9 L518.8,161.9 L519.5,160.5 L519.9,163.3 L520.2,167.2 L520.5,168.0 L521.0,169.4 L521.7,158.2 L522.4,145.4 L523.2,129.9 L523.9,119.2 L524.6,108.2 L525.0,103.0 L525.3,104.2" fill="none" stroke="#6fa236" stroke-width="1.25" stroke-linejoin="round"/>
<path d="M23.5,305.3 L23.8,313.1 L24.4,305.0 L24.8,301.5 L25.3,299.6 L25.8,299.1 L26.4,306.2 L27.0,306.6 L27.6,309.5 L28.2,311.1 L28.8,311.6 L29.5,312.4 L29.8,321.0 L30.2,315.3 L30.9,326.4 L31.4,335.1 L32.0,341.3 L32.6,343.9 L33.1,340.9 L33.9,335.7 L34.3,334.5 L34.6,336.6 L34.9,335.4 L35.3,328.7 L36.1,329.2 L36.8,326.9 L37.5,332.2 L38.2,332.1 L39.0,334.5 L39.4,334.3 L39.7,336.2 L40.4,333.8 L41.2,329.9 L41.9,325.5 L42.6,323.6 L43.4,321.6 L43.8,318.9 L44.1,318.6 L44.4,323.9 L44.8,319.0 L45.5,321.6 L46.3,319.1 L47.0,317.4 L47.7,317.9 L48.5,322.7 L48.9,319.3 L49.2,324.9 L49.9,323.9 L50.7,330.5 L51.4,329.2 L52.1,344.2 L52.8,340.0 L53.3,348.9 L53.6,351.1 L53.9,352.5 L54.3,356.9 L55.0,363.4 L55.8,356.3 L56.5,352.1 L57.2,351.8 L58.0,351.6 L58.4,353.5 L58.7,350.5 L59.0,349.8 L59.4,351.3 L60.1,346.9 L60.9,348.7 L61.6,352.3 L62.3,344.4 L63.1,341.4 L63.4,338.8 L63.8,336.8 L64.5,326.6 L65.3,321.7 L66.0,319.8 L66.7,316.9 L67.4,318.2 L67.9,319.8 L68.2,321.7 L68.5,321.0 L68.9,318.2 L69.6,317.2 L70.4,317.8 L71.1,312.4 L71.8,313.3 L72.6,310.4 L73.0,311.5 L73.3,313.6 L74.0,307.6 L74.7,298.1 L75.5,298.8 L76.2,301.8 L76.9,303.5 L77.4,303.2 L77.7,302.1 L78.0,302.0 L78.4,298.1 L79.1,297.9 L79.9,293.2 L80.6,288.9 L81.3,282.2 L82.0,291.8 L82.5,294.4 L82.8,299.4 L83.5,301.5 L84.2,296.6 L85.0,298.9 L85.7,301.6 L86.4,302.0 L86.9,302.9 L87.4,315.1 L87.9,319.0 L88.6,322.5 L89.3,322.8 L90.1,321.8 L90.8,327.0 L91.5,324.4 L92.0,326.1 L92.3,326.6 L92.6,327.9 L93.0,326.9 L93.7,334.1 L94.5,332.1 L95.2,336.9 L95.9,336.2 L96.6,335.5 L97.0,337.2 L97.4,333.8 L98.0,355.7 L98.3,353.8 L98.7,352.8 L99.5,344.8 L100.2,347.5 L100.9,345.5 L101.6,348.8 L102.4,348.7 L102.8,350.5 L103.1,349.5 L103.8,353.3 L104.6,353.8 L105.3,350.8 L106.0,349.5 L106.8,345.4 L107.2,348.1 L107.5,348.4 L107.8,347.8 L108.2,347.0 L108.9,349.2 L109.7,350.4 L110.4,350.7 L111.1,353.9 L111.9,353.4 L112.3,354.9 L112.6,353.1 L113.3,355.1 L114.1,358.7 L114.8,355.9 L115.5,358.6 L116.2,358.5 L116.7,357.3 L117.0,357.6 L117.3,360.7 L117.7,360.3 L118.4,359.3 L119.2,363.8 L119.9,364.6 L120.6,366.3 L121.4,367.5 L121.8,366.8 L122.1,367.1 L122.4,367.4 L122.8,371.1 L123.5,367.7 L124.3,372.3 L125.0,373.1 L125.7,371.8 L126.5,371.8 L126.8,369.2 L127.2,369.3 L127.9,372.1 L128.7,373.0 L129.4,371.6 L130.1,370.7 L130.8,370.3 L131.3,366.5 L131.6,366.2 L131.9,365.6 L132.3,366.4 L133.0,363.6 L133.8,363.8 L134.5,361.6 L135.2,363.9 L136.0,363.5 L136.3,363.2 L136.7,363.4 L137.4,369.1 L138.1,373.4 L138.9,377.1 L139.6,384.5 L140.3,379.5 L140.8,376.7 L141.1,374.9 L141.4,372.8 L141.8,370.4 L142.5,367.0 L143.3,362.9 L144.0,363.2 L144.7,355.4 L145.4,351.8 L145.9,348.1 L146.2,347.1 L146.9,347.4 L147.6,343.4 L148.4,341.4 L149.1,339.3 L149.8,339.6 L150.3,337.8 L151.2,329.8 L151.6,329.2 L152.3,331.9 L152.8,331.3 L153.4,334.8 L154.4,331.6 L154.7,327.2 L155.5,322.9 L156.0,319.9 L156.6,317.2 L157.3,313.8 L157.7,311.9 L158.8,308.0 L159.2,308.0 L159.9,308.8 L160.4,307.8 L161.0,311.2 L161.7,309.9 L162.1,307.8 L163.2,302.1 L163.8,299.6 L164.2,302.5 L164.7,305.3 L165.6,307.3 L166.4,310.6 L166.8,309.8 L167.5,311.6 L168.1,312.0 L168.6,312.3 L169.3,319.4 L169.7,317.2 L170.8,323.1 L171.2,325.1 L171.9,328.2 L172.5,330.6 L173.0,333.2 L174.0,338.8 L174.4,342.2 L174.7,345.4 L175.0,346.5 L175.5,353.4 L176.2,359.9 L176.9,372.1 L177.6,375.3 L178.4,376.4 L179.1,377.2 L179.5,380.4 L179.8,376.4 L180.6,376.6 L181.3,376.7 L182.0,378.6 L182.8,377.5 L183.5,377.7 L184.2,373.0 L184.5,374.2 L184.9,371.6 L185.7,372.5 L186.4,373.9 L187.1,373.9 L187.9,376.3 L188.6,374.2 L189.0,371.9 L189.3,377.2 L189.6,376.9 L190.1,371.0 L190.8,374.4 L191.5,371.3 L192.2,366.8 L193.0,369.1 L193.7,362.5 L194.1,360.5 L194.4,360.6 L195.2,353.6 L195.9,350.8 L196.6,331.4 L197.4,321.1 L198.1,308.1 L198.5,310.2 L199.3,314.9 L199.7,320.1 L200.3,329.5 L201.0,334.3 L201.7,331.0 L202.5,323.5 L202.9,312.9 L203.3,296.5 L203.8,280.4 L204.2,296.6 L204.7,307.7 L205.1,317.9 L205.5,322.4 L206.1,317.0 L206.8,312.1 L207.6,309.8 L208.0,304.0 L208.3,300.9 L208.6,298.5 L209.0,306.2 L209.8,305.7 L210.5,308.1 L211.2,310.3 L212.0,304.5 L212.7,299.2 L213.1,299.6 L213.4,299.9 L213.7,299.3 L214.1,295.7 L214.9,301.9 L215.6,302.5 L216.3,308.7 L217.1,314.3 L217.8,318.4 L218.1,317.0 L218.5,314.6 L219.3,311.8 L220.0,303.8 L220.7,297.9 L221.4,298.6 L222.2,302.4 L222.6,303.1 L222.9,305.8 L223.2,303.9 L223.6,298.6 L224.4,301.6 L224.8,305.5 L225.4,318.6 L225.8,344.0 L226.6,341.8 L227.3,344.2 L227.7,340.4 L228.0,342.8 L228.7,343.8 L229.5,348.0 L230.2,353.1 L230.9,358.4 L231.7,359.4 L232.1,358.1 L232.4,357.4 L232.7,357.6 L233.1,353.8 L233.9,356.5 L234.6,348.8 L235.3,347.9 L236.0,341.8 L236.8,341.8 L237.2,341.3 L237.5,339.5 L238.2,334.7 L239.0,327.8 L239.7,325.9 L240.4,317.6 L241.2,319.7 L241.6,316.7 L241.9,315.4 L242.2,312.2 L242.6,307.6 L243.3,308.1" fill="none" stroke="#e6b02c" stroke-width="1.25" stroke-linejoin="round"/>
<path d="M23.5,303.0 L23.8,310.8 L24.4,303.2 L24.8,300.5 L25.3,296.1 L25.8,299.1 L26.4,303.8 L27.0,304.2 L27.6,307.1 L28.2,309.2 L28.8,309.6 L29.5,311.4 L29.8,318.2 L30.2,314.4 L30.9,324.3 L31.4,333.0 L32.0,339.7 L32.6,342.3 L33.1,339.7 L33.9,332.2 L34.3,333.1 L34.6,334.3 L34.9,333.0 L35.3,328.1 L36.1,326.4 L36.8,325.6 L37.5,330.3 L38.2,330.2 L39.0,332.2 L39.4,332.5 L39.7,334.1 L40.4,331.9 L41.2,327.6 L41.9,323.4 L42.6,322.3 L43.4,319.4 L43.8,317.7 L44.1,317.4 L44.4,320.7 L44.8,317.2 L45.5,318.6 L46.3,318.0 L47.0,316.2 L47.7,316.7 L48.5,321.5 L48.9,317.4 L49.2,323.6 L49.9,322.1 L50.7,328.5 L51.4,329.2 L52.1,339.7 L52.8,337.5 L53.3,344.6 L53.6,346.3 L53.9,348.3 L54.3,348.7 L55.0,357.1 L55.8,348.1 L56.5,345.2 L57.2,341.2 L58.0,342.6 L58.4,348.0 L58.7,347.6 L59.0,345.7 L59.4,345.0 L60.1,339.7 L60.9,340.9 L61.6,344.8 L62.3,338.7 L63.1,337.4 L63.4,336.6 L63.8,335.1 L64.5,324.4 L65.3,319.3 L66.0,319.1 L66.7,315.5 L67.4,316.1 L67.9,317.8 L68.2,319.3 L68.5,318.6 L68.9,316.6 L69.6,315.7 L70.4,315.4 L71.1,311.2 L71.8,312.2 L72.6,309.0 L73.0,309.5 L73.3,312.2 L74.0,305.9 L74.7,296.2 L75.5,295.2 L76.2,300.7 L76.9,303.1 L77.4,302.0 L77.7,300.9 L78.0,300.1 L78.4,297.0 L79.1,294.3 L79.9,292.7 L80.6,286.9 L81.3,280.1 L82.0,290.5 L82.5,292.1 L82.8,298.3 L83.5,299.1 L84.2,295.0 L85.0,298.8 L85.7,298.8 L86.4,299.9 L86.9,302.2 L87.4,313.6 L87.9,316.5 L88.6,321.4 L89.3,320.9 L90.1,320.0 L90.8,324.9 L91.5,323.1 L92.0,322.6 L92.3,325.5 L92.6,326.8 L93.0,324.6 L93.7,333.7 L94.5,329.4 L95.2,336.3 L95.9,333.5 L96.6,333.3 L97.0,333.4 L97.4,333.1 L98.0,352.2 L98.3,350.2 L98.7,349.5 L99.5,342.7 L100.2,342.9 L100.9,340.6 L101.6,345.6 L102.4,344.0 L102.8,344.6 L103.1,343.8 L103.8,343.1 L104.6,343.1 L105.3,344.3 L106.0,342.1 L106.8,340.3 L107.2,342.0 L107.5,342.4 L107.8,343.4 L108.2,344.9 L108.9,346.8 L109.7,347.4 L110.4,347.6 L111.1,350.2 L111.9,348.6 L112.3,352.2 L112.6,350.0 L113.3,352.6 L114.1,354.8 L114.8,353.9 L115.5,355.5 L116.2,354.5 L116.7,354.6 L117.0,354.9 L117.3,358.0 L117.7,357.4 L118.4,357.4 L119.2,360.3 L119.9,360.9 L120.6,362.3 L121.4,364.4 L121.8,364.7 L122.1,363.4 L122.4,363.7 L122.8,367.2 L123.5,363.8 L124.3,367.0 L125.0,366.9 L125.7,364.7 L126.5,365.3 L126.8,362.1 L127.2,362.4 L127.9,365.3 L128.7,366.2 L129.4,364.3 L130.1,367.3 L130.8,363.9 L131.3,363.2 L131.6,362.8 L131.9,362.5 L132.3,363.1 L133.0,360.0 L133.8,362.1 L134.5,357.8 L135.2,360.9 L136.0,360.2 L136.3,360.0 L136.7,360.3 L137.4,364.5 L138.1,368.7 L138.9,375.3 L139.6,378.9 L140.3,377.6 L140.8,373.1 L141.1,371.4 L141.4,369.8 L141.8,365.8 L142.5,362.6 L143.3,360.6 L144.0,358.6 L144.7,352.3 L145.4,349.6 L145.9,347.0 L146.2,344.6 L146.9,345.8 L147.6,341.1 L148.4,340.1 L149.1,338.4 L149.8,338.0 L150.6,333.2 L150.9,331.2 L151.3,329.7 L152.0,334.2 L152.7,333.8 L153.5,337.2 L154.2,341.2 L154.9,329.8 L155.4,323.0 L155.7,321.5 L156.0,320.2 L156.4,317.9 L157.1,315.1 L157.9,310.5 L158.6,308.3 L159.3,311.1 L160.0,313.9 L160.4,309.8 L160.8,311.8 L161.5,310.8 L162.2,311.4 L163.0,304.9 L163.7,300.0 L164.4,302.1 L164.9,305.3 L165.2,304.6 L165.5,305.9 L165.9,309.7 L166.6,309.3 L167.3,314.2 L168.1,313.4 L168.8,314.3 L169.5,319.6 L169.9,319.9 L170.3,324.0 L171.0,327.2 L171.7,330.9 L172.5,331.8 L173.2,336.3 L174.0,335.2 L174.4,339.5 L174.7,342.7 L175.0,343.3 L175.5,349.6 L176.2,356.4 L176.9,363.7 L177.6,368.4 L178.4,372.0 L179.1,373.3 L179.5,376.4 L179.8,373.2 L180.6,372.8 L181.3,372.9 L182.0,375.3 L182.8,369.9 L183.5,370.4 L184.2,365.7 L184.5,367.0 L184.9,363.2 L185.7,365.9 L186.4,366.7 L187.1,365.7 L187.9,369.6 L188.6,367.9 L189.0,365.4 L189.3,370.0 L189.6,369.7 L190.1,363.6 L190.8,368.1 L191.5,366.6 L192.2,360.4 L193.0,366.2 L193.7,359.9 L194.1,357.9 L194.4,358.1 L195.2,350.3 L195.9,347.7 L196.6,341.2 L197.4,335.6 L198.1,325.4 L198.5,314.1 L198.8,308.3 L199.3,313.8 L199.7,319.4 L200.3,327.9 L201.0,333.8 L201.7,330.6 L202.5,322.7 L202.9,312.2 L203.3,296.7 L203.8,280.6 L204.2,295.8 L204.7,307.2 L205.1,317.4 L205.5,321.3 L206.1,315.8 L206.8,311.3 L207.6,309.6 L208.0,302.9 L208.3,299.7 L208.6,298.0 L209.0,305.0 L209.8,303.9 L210.5,307.1 L211.2,308.5 L212.0,304.4 L212.7,299.2 L213.1,297.9 L213.4,298.0 L213.7,297.3 L214.1,296.0 L214.9,299.7 L215.6,302.6 L216.3,306.3 L217.1,314.8 L217.8,317.3 L218.1,315.9 L218.5,315.0 L219.3,310.4 L220.0,303.0 L220.7,296.5 L221.4,298.0 L222.2,301.4 L222.6,302.4 L222.9,303.8 L223.2,301.9 L223.6,297.9 L224.4,300.7 L224.8,306.3 L225.4,319.4 L225.8,340.9 L226.6,341.0 L227.3,341.8 L227.7,337.6 L228.0,341.0 L228.7,340.4 L229.5,346.4 L230.2,350.6 L230.9,356.5 L231.7,356.6 L232.1,355.8 L232.4,355.1 L232.7,355.2 L233.1,351.3 L233.9,354.6 L234.6,345.7 L235.3,346.6 L236.0,340.1 L236.8,340.1 L237.2,339.9 L237.5,336.9 L238.2,335.2 L239.0,325.0 L239.7,326.6 L240.4,316.6 L241.2,318.7 L241.6,315.7 L241.9,314.5 L242.2,310.5 L242.6,308.4 L243.3,306.0" fill="none" stroke="#1b64a0" stroke-width="1.25" stroke-linejoin="round"/>
<path d="M23.5,291.4 L24.1,295.5 L24.8,293.3 L25.1,296.1 L25.4,296.3 L26.1,294.7 L26.7,296.1 L27.0,295.7 L27.3,296.2 L28.0,299.4 L28.8,299.8 L29.5,304.5 L29.8,304.1 L30.2,307.2 L30.9,313.4 L31.7,322.2 L32.4,320.4 L32.8,324.4 L33.4,317.1 L34.0,319.8 L34.6,321.6 L34.9,320.2 L35.3,316.7 L36.1,319.8 L36.8,322.1 L37.5,321.0 L38.2,325.4 L39.0,318.0 L39.4,318.2 L39.7,312.8 L40.4,311.8 L41.2,311.3 L41.9,305.7 L42.6,305.3 L43.4,305.1 L43.8,306.6 L44.1,307.0 L44.4,302.2 L44.8,311.1 L45.5,309.2 L46.3,313.5 L47.0,308.2 L47.7,310.9 L48.5,313.6 L48.9,311.8 L49.2,312.8 L49.9,314.3 L50.7,317.0 L51.4,322.0 L52.1,322.5 L52.8,324.3 L53.3,327.2 L53.6,327.8 L53.9,325.1 L54.3,326.7 L55.0,333.2 L55.8,328.4 L56.5,335.5 L57.2,330.1 L58.0,332.5 L58.4,332.5 L58.7,330.1 L59.0,329.8 L59.4,330.2 L60.1,329.3 L60.9,327.4 L61.6,326.9 L62.3,327.1 L63.1,321.7 L63.4,323.7 L63.8,324.7 L64.5,320.9 L65.3,319.1 L66.0,315.3 L66.7,317.7 L67.4,316.3 L67.9,315.8 L68.2,319.9 L68.5,318.5 L68.9,312.7 L69.6,315.2 L70.4,310.4 L71.1,311.4 L71.8,313.2 L72.6,312.8 L73.0,311.3 L73.3,310.8 L74.0,307.6 L74.7,311.9 L75.5,311.1 L76.2,307.7 L76.9,305.6 L77.4,307.3 L77.7,306.8 L78.0,305.1 L78.4,306.6 L79.1,304.7 L79.9,305.6 L80.6,306.0 L81.3,305.5 L82.0,308.1 L82.5,309.0 L82.8,307.3 L83.5,307.7 L84.2,313.0 L85.0,311.9 L85.7,315.6 L86.4,312.1 L87.2,319.1 L87.5,317.9 L87.9,318.5 L88.6,321.6 L89.3,321.1 L90.1,321.0 L90.8,320.1 L91.5,317.4 L92.0,316.6 L92.3,314.8 L92.6,314.6 L93.0,314.6 L93.7,315.7 L94.5,315.6 L95.2,315.1 L95.9,316.9 L96.6,317.8 L97.0,316.4 L97.4,316.5 L98.0,317.5 L98.3,319.4 L98.7,319.1 L99.5,323.5 L100.2,328.2 L100.9,328.7 L101.6,333.5 L102.4,333.2 L102.8,335.4 L103.1,336.6 L103.8,334.0 L104.6,336.1 L105.3,332.3 L106.0,331.3 L106.8,327.5 L107.2,332.9 L107.5,334.2 L107.8,331.6 L108.2,328.3 L108.9,327.1 L109.7,326.2 L110.4,327.2 L111.1,326.3 L111.9,329.5 L112.3,328.4 L112.6,329.6 L113.3,332.8 L114.1,332.0 L114.8,326.9 L115.5,325.9 L116.2,331.9 L116.7,330.4 L117.0,331.5 L117.3,334.0 L117.7,332.7 L118.4,336.3 L119.2,334.0 L119.9,334.9 L120.5,339.3 L121.4,339.3 L121.8,339.1 L122.4,342.2 L122.8,342.9 L123.7,341.8 L124.3,346.0 L124.9,342.7 L125.7,349.3 L126.5,349.5 L126.8,349.3 L127.2,346.9 L127.9,344.6 L128.7,341.0 L129.4,343.4 L130.1,340.2 L130.8,340.4 L131.3,339.5 L131.6,337.8 L131.9,337.5 L132.6,336.6 L133.0,338.1 L133.8,332.4 L134.5,333.9 L135.2,332.7 L136.0,335.9 L136.3,332.7 L136.7,338.6 L137.4,334.0 L138.2,338.5 L138.9,339.4 L139.5,339.8 L140.3,340.7 L140.8,342.4 L141.4,343.7 L141.8,345.2 L142.5,349.5 L143.3,350.0 L144.0,351.4 L144.7,350.6 L145.4,341.8 L145.9,343.2 L146.2,339.9 L146.9,336.9 L147.6,331.9 L148.4,332.4 L149.1,328.3 L149.8,328.1 L150.6,319.1 L150.9,319.9 L151.3,316.2 L152.0,319.8 L152.7,318.3 L153.5,319.9 L154.2,318.4 L154.9,317.7 L155.4,320.6 L155.7,322.6 L156.0,325.2 L156.4,331.9 L157.1,330.9 L157.9,327.8 L158.6,327.7 L159.3,324.8 L160.0,332.1 L160.4,328.7 L160.8,329.1 L161.5,330.4 L162.2,335.7 L163.0,330.6 L163.7,325.0 L164.4,319.3 L164.9,322.6 L165.2,324.7 L165.5,324.4 L165.9,321.5 L166.6,322.3 L167.3,325.9 L168.1,322.5 L168.8,324.7 L169.5,327.9 L169.9,325.2 L170.3,328.5 L171.0,327.9 L171.7,333.1 L172.5,335.4 L173.2,338.3 L174.0,338.4 L174.4,338.0 L174.7,339.3 L175.0,342.6 L175.5,344.1 L176.2,347.4 L176.9,344.2 L177.6,351.0 L178.4,346.9 L179.1,346.8 L179.5,350.4 L179.8,347.0 L180.6,347.2 L181.3,350.5 L182.0,349.5 L182.8,346.1 L183.5,350.2 L184.2,344.6 L184.5,349.2 L184.9,345.9 L185.7,347.5 L186.4,350.2 L187.1,351.3 L187.9,353.9 L188.6,351.7 L189.0,353.4 L189.3,354.0 L189.6,353.7 L190.1,351.9 L190.8,351.5 L191.5,352.0 L192.2,347.6 L193.0,351.8 L193.7,345.1 L194.1,348.7 L194.4,346.0 L195.2,347.8 L195.9,343.3 L196.6,341.2 L197.0,336.2 L197.4,340.1 L198.1,338.7 L198.5,336.9 L198.8,336.2 L199.1,340.3 L199.5,338.0 L200.3,341.5 L201.0,337.6 L201.7,336.2 L202.5,330.2 L203.2,330.4 L203.6,327.1 L203.9,330.1 L204.7,336.8 L205.4,337.3 L206.1,329.1 L206.8,326.7 L207.6,323.6 L208.0,326.2 L208.3,325.6 L208.6,323.6 L209.0,327.0 L209.8,326.8 L210.5,325.5 L211.2,325.9 L212.0,321.7 L212.7,322.8 L213.1,320.7 L213.4,321.2 L213.7,321.5 L214.1,320.3 L214.9,327.2 L215.6,324.8 L216.3,331.8 L217.1,337.7 L217.8,339.8 L218.1,337.7 L218.5,336.4 L219.3,335.3 L220.0,330.8 L220.7,328.9 L221.4,330.2 L222.2,325.6 L222.6,331.6 L222.9,330.7 L223.2,331.4 L223.6,331.7 L224.4,334.9 L225.1,340.4 L225.8,342.2 L226.6,344.1 L227.3,347.8 L227.7,348.6 L228.0,348.3 L228.7,348.5 L229.5,348.6 L230.2,346.6 L230.9,346.6 L231.7,343.8 L232.1,341.2 L232.4,340.6 L232.7,339.3 L233.1,342.6 L233.9,341.2 L234.6,342.2 L235.3,343.0 L236.0,348.1 L236.8,350.4 L237.2,349.6 L237.5,347.7 L238.2,343.9 L239.0,339.2 L239.7,336.2 L240.4,336.4 L241.2,334.6 L241.6,337.6 L241.9,338.2 L242.2,333.5 L242.6,338.7 L243.3,332.0" fill="none" stroke="#c83a55" stroke-width="1.25" stroke-linejoin="round"/>
<path d="M23.5,286.9 L24.0,283.1 L24.9,286.7 L25.4,288.0 L25.8,291.4 L26.6,296.8 L27.5,302.8 L27.9,304.2 L28.4,305.7 L29.2,311.6 L30.1,321.5 L30.5,330.8 L30.9,339.6 L31.7,353.0 L32.4,363.3 L33.1,353.7 L33.9,349.7 L34.3,350.9 L34.6,349.9 L34.9,349.2 L35.3,347.8 L36.1,345.1 L36.8,344.6 L37.5,343.2 L38.2,347.3 L39.0,348.3 L39.4,345.7 L39.7,346.2 L40.4,344.5 L41.2,346.2 L41.9,339.9 L42.6,337.3 L43.2,326.2 L43.8,323.8 L44.1,322.6 L44.4,321.2 L45.0,322.0 L45.8,319.5 L46.3,319.5 L46.7,319.4 L47.6,317.9 L48.4,322.8 L48.9,321.4 L49.3,326.5 L50.2,325.6 L50.8,329.5 L51.1,330.6 L51.9,331.6 L52.8,334.1 L53.3,337.2 L53.7,341.7 L54.6,344.3 L55.0,350.4 L55.4,348.1 L55.8,344.6 L56.3,343.8 L57.2,339.6 L58.0,337.9 L58.4,339.8 L58.9,336.7 L59.8,340.1 L60.3,340.6 L60.7,343.4 L61.5,339.0 L62.4,338.3 L62.8,336.9 L63.3,336.2 L64.2,329.8 L65.0,327.6 L65.3,323.1 L65.9,319.9 L66.8,317.3 L67.2,318.8 L67.6,320.5 L68.5,326.7 L69.4,329.5 L69.8,335.2 L70.3,334.8 L71.1,329.8 L71.7,328.2 L72.0,327.4 L72.3,327.5 L72.9,324.8 L73.8,323.2 L74.2,321.9 L74.6,321.4 L75.5,325.3 L76.4,332.6 L76.8,330.9 L77.2,334.1 L78.1,331.2 L78.7,325.8 L79.0,329.6 L79.9,329.0 L80.7,322.7 L81.2,324.1 L81.6,322.5 L82.3,327.1 L82.9,332.7 L83.8,336.6 L84.2,335.6 L85.0,341.1 L85.7,342.2 L86.4,348.6 L87.2,355.2 L87.5,354.1 L87.9,355.0 L88.6,363.0 L89.3,367.3 L90.1,360.9 L90.8,361.9 L91.5,357.9 L92.0,357.5 L92.3,360.5 L92.6,360.2 L93.0,356.0 L93.7,359.2 L94.5,358.1 L95.2,359.2 L95.9,356.1 L96.6,356.1 L97.0,351.8 L97.4,352.1 L98.0,360.6 L98.3,361.3 L98.7,364.1 L99.5,365.1 L100.2,368.0 L100.9,363.0 L101.6,360.4 L102.4,364.4 L102.8,362.5 L103.1,367.3 L103.8,365.3 L104.6,366.9 L105.3,373.7 L106.0,373.7 L106.8,368.0 L107.2,367.8 L107.5,366.4 L107.8,366.4 L108.2,367.3 L108.9,366.5 L109.7,370.6 L110.4,368.8 L111.1,369.7 L111.9,372.3 L112.3,371.7 L112.6,370.2 L113.3,376.4 L114.1,372.4 L114.8,375.0 L115.5,375.9 L116.2,379.3 L116.7,376.7 L117.0,377.3 L117.3,379.9 L117.7,380.0 L118.4,382.1 L119.2,383.5 L119.9,384.4 L120.6,388.8 L121.4,388.1 L121.8,390.9 L122.1,390.4 L122.4,391.1 L122.8,393.3 L123.5,392.0 L124.3,394.3 L125.0,393.7 L125.7,394.2 L126.5,397.1 L126.8,395.8 L127.2,398.4 L127.9,403.2 L128.7,398.8 L129.4,401.9 L130.1,400.1 L130.8,395.3 L131.3,392.6 L131.6,392.9 L131.9,392.2 L132.3,389.9 L133.0,390.8 L133.8,388.6 L134.5,385.1 L135.2,384.8 L136.0,384.3 L136.3,381.9 L136.7,381.0 L137.4,384.2 L138.1,386.8 L138.9,394.2 L139.6,397.3 L140.3,396.0 L140.8,389.2 L141.1,386.3 L141.4,382.7 L141.8,381.9 L142.5,381.2 L143.3,384.0 L144.0,381.1 L144.7,380.4 L145.4,380.5 L145.9,377.9 L146.2,379.4 L146.9,379.1 L147.6,380.6 L148.4,377.8 L149.1,378.8 L149.8,380.0 L150.6,380.9 L150.9,380.9 L151.3,375.7 L152.0,382.5 L152.7,379.9 L153.5,385.0 L154.2,385.9 L154.9,384.6 L155.4,383.2 L155.7,383.6 L156.0,380.4 L156.4,375.9 L157.1,369.1 L157.9,364.4 L158.6,366.4 L159.3,369.6 L160.0,370.9 L160.4,369.7 L160.8,372.1 L161.5,369.3 L162.2,364.0 L163.0,358.3 L163.7,357.7 L164.4,360.9 L164.9,364.4 L165.2,363.1 L165.5,364.4 L165.9,367.1 L166.6,369.2 L167.3,371.1 L168.1,372.7 L168.8,369.9 L169.5,377.3 L169.9,376.6 L170.3,381.7 L171.0,377.1 L171.7,385.1 L172.5,381.2 L173.2,384.8 L174.0,387.6 L174.4,389.5 L174.7,391.4 L175.0,388.2 L175.5,396.1 L176.2,401.4 L176.9,406.8 L177.6,414.8 L178.4,415.1 L179.1,413.9 L179.5,411.2 L179.8,412.6 L180.6,409.4 L181.3,409.4 L182.0,406.1 L182.8,406.4 L183.5,400.9 L184.2,398.6 L184.5,396.5 L184.9,391.0 L185.7,394.7 L186.4,393.9 L187.1,394.6 L187.9,400.2 L188.6,398.0 L189.0,398.7 L189.3,400.2 L189.6,399.7 L190.1,392.5 L190.8,397.6 L191.5,395.8 L192.2,393.1 L193.0,395.9 L193.7,390.7 L194.1,390.2 L194.4,390.6 L195.2,384.9 L195.9,385.4 L196.6,379.9 L197.4,373.7 L198.1,367.6 L198.5,362.6 L198.8,360.6 L199.3,367.2 L199.7,379.4 L200.3,385.7 L201.0,386.8 L201.7,385.3 L202.5,382.2 L203.2,373.6 L203.6,358.2 L204.1,341.7 L204.5,353.4 L204.9,373.6 L205.4,390.7 L205.8,383.1 L206.4,377.3 L207.0,381.1 L207.6,379.2 L208.0,372.3 L208.3,367.2 L208.6,362.5 L209.0,363.2 L209.8,363.6 L210.5,370.9 L211.2,373.1 L212.0,368.8 L212.7,363.9 L213.1,361.4 L213.4,360.3 L213.7,360.9 L214.1,363.0 L214.9,366.4 L215.6,371.4 L216.3,376.6 L217.1,386.1 L217.8,389.2 L218.1,386.9 L218.5,381.5 L219.3,375.1 L220.0,366.5 L220.7,362.4 L221.4,361.2 L222.2,366.4 L222.6,365.4 L222.9,365.3 L223.2,366.0 L223.6,364.7 L224.4,369.9 L225.1,380.2 L225.8,402.0 L226.6,403.7 L227.3,406.4 L227.7,406.8 L228.0,411.0 L228.7,406.5 L229.5,405.6 L230.2,412.6 L230.9,419.9 L231.7,425.5 L232.1,428.4 L232.4,429.7 L232.7,427.4 L233.1,425.9 L233.9,424.8 L234.6,420.6 L235.3,416.9 L236.0,414.2 L236.8,411.1 L237.2,413.1 L237.5,414.5 L238.2,417.1 L239.0,398.8 L239.7,389.9 L240.4,384.9 L241.2,383.2 L241.6,379.8 L241.9,378.5 L242.2,376.7 L242.6,375.8 L243.1,372.9" fill="none" stroke="#6fa236" stroke-width="1.25" stroke-linejoin="round"/>
<path d="M305.6,303.7 L306.1,301.6 L306.7,296.1 L307.1,294.6 L307.5,297.9 L308.1,301.5 L308.7,301.2 L309.3,305.5 L310.0,304.5 L310.8,306.1 L311.5,304.9 L312.2,313.3 L312.6,314.4 L312.9,319.2 L313.4,326.5 L314.0,331.4 L314.6,332.1 L315.1,329.9 L315.9,330.6 L316.6,328.2 L317.3,324.5 L317.6,323.5 L318.1,323.1 L318.8,319.1 L319.5,320.4 L320.2,324.3 L321.0,325.6 L321.7,325.8 L322.1,327.8 L322.4,327.1 L322.7,321.7 L323.2,322.8 L323.9,318.4 L324.6,315.0 L325.4,312.8 L326.1,311.5 L326.8,314.1 L327.2,313.7 L327.5,314.5 L328.3,316.2 L329.0,309.7 L329.7,312.1 L330.5,311.7 L331.2,314.7 L331.6,314.8 L331.9,316.0 L332.2,316.4 L332.7,319.2 L333.4,323.8 L334.1,325.4 L334.8,334.2 L335.6,337.6 L336.3,342.7 L336.7,347.2 L337.0,352.1 L337.3,350.4 L337.8,344.5 L338.5,341.4 L339.2,345.3 L340.0,337.1 L340.7,342.7 L341.4,337.7 L341.7,339.7 L342.1,338.4 L342.9,338.0 L343.6,338.1 L344.3,335.5 L345.1,333.2 L345.8,329.0 L346.2,330.5 L346.5,324.0 L346.8,321.2 L347.3,318.2 L348.0,313.5 L348.7,309.2 L349.4,315.2 L350.2,315.4 L350.9,316.9 L351.2,317.0 L351.6,315.7 L352.4,316.4 L353.1,314.4 L353.8,311.8 L354.6,309.5 L355.3,308.2 L355.7,308.9 L356.0,307.0 L356.3,301.1 L356.7,299.1 L357.5,293.2 L358.5,299.1 L358.9,300.2 L359.3,303.6 L360.2,297.4 L360.8,297.0 L361.1,295.9 L362.0,294.6 L362.8,288.3 L363.3,283.7 L363.7,285.4 L364.4,289.2 L365.0,299.7 L365.9,297.9 L366.5,299.3 L366.8,295.4 L367.6,296.5 L368.5,298.5 L369.0,301.9 L369.4,306.4 L370.3,313.6 L371.1,314.6 L371.5,316.1 L372.0,318.1 L372.9,317.5 L373.4,321.2 L373.8,319.0 L374.6,324.2 L375.5,326.5 L376.0,325.5 L376.4,329.8 L377.2,329.9 L378.1,335.2 L378.5,334.3 L379.0,337.6 L379.9,342.8 L380.7,344.2 L381.1,344.7 L381.6,347.4 L382.5,341.5 L382.9,343.7 L383.4,341.2 L384.2,341.5 L385.1,339.3 L385.5,341.7 L386.0,338.5 L386.8,343.0 L387.4,340.4 L387.7,339.7 L388.0,337.2 L388.6,338.6 L389.5,336.2 L389.9,336.4 L390.3,343.0 L391.2,342.4 L392.1,344.7 L392.5,342.7 L393.0,343.1 L393.8,342.9 L394.4,343.4 L394.7,345.1 L395.6,343.8 L396.4,348.1 L396.9,347.8 L397.3,345.4 L398.2,348.7 L398.8,347.6 L399.1,348.0 L399.4,351.4 L399.9,352.6 L400.8,351.5 L401.3,351.9 L401.7,351.9 L402.6,354.8 L403.4,355.4 L403.9,353.2 L404.3,358.1 L405.2,357.1 L406.0,360.1 L406.4,355.8 L406.9,358.2 L407.8,354.3 L408.3,355.2 L408.7,357.4 L409.5,352.6 L410.4,356.9 L410.8,358.7 L411.3,361.6 L412.2,361.1 L413.0,358.0 L413.4,355.4 L413.9,353.8 L414.8,353.5 L415.3,353.9 L415.6,352.3 L415.9,352.0 L416.6,351.9 L417.2,352.8 L418.0,350.1 L418.4,351.6 L419.1,351.4 L420.0,350.4 L420.4,354.4 L421.0,361.4 L421.9,369.7 L422.3,369.1 L422.8,368.1 L423.7,361.1 L424.2,357.2 L424.5,356.4 L425.6,353.8 L426.1,345.9 L426.7,346.1 L427.3,339.7 L427.8,340.4 L428.6,330.4 L428.9,329.1 L429.2,333.8 L430.0,326.5 L430.5,327.6 L431.1,327.8 L431.8,323.4 L432.2,326.5 L433.3,325.5 L433.7,327.9 L434.4,328.0 L434.9,330.8 L435.5,331.1 L436.5,325.5 L436.8,324.1 L437.6,318.9 L438.1,317.8 L438.7,311.4 L439.4,313.5 L439.8,307.4 L440.9,307.5 L441.3,306.9 L442.0,307.4 L442.5,307.0 L443.1,309.9 L443.8,306.4 L444.2,304.6 L445.3,303.7 L445.9,296.5 L446.4,299.0 L446.8,302.2 L447.7,305.7 L448.5,309.8 L448.9,307.1 L449.6,308.9 L450.1,312.8 L450.7,313.8 L451.4,314.9 L451.8,316.0 L452.9,320.2 L453.3,321.3 L454.0,324.4 L454.6,326.3 L455.1,329.0 L455.9,331.6 L456.2,333.6 L457.3,343.4 L457.8,343.9 L458.4,352.9 L459.0,353.1 L459.5,361.1 L460.5,363.6 L460.9,364.4 L461.6,363.6 L462.2,365.2 L462.7,362.4 L463.5,362.6 L463.8,361.0 L464.1,361.3 L464.9,362.4 L465.4,364.1 L466.0,360.0 L466.6,360.7 L467.1,357.6 L468.2,359.2 L468.5,359.0 L469.3,357.3 L469.8,361.4 L470.4,359.8 L471.1,359.3 L471.5,358.4 L472.5,358.9 L473.0,357.7 L473.6,356.4 L474.2,355.8 L474.7,355.6 L475.8,349.3 L476.1,347.3 L476.9,345.0 L477.4,340.3 L478.0,336.7 L478.7,328.5 L479.5,318.0 L480.2,306.9 L480.8,305.6 L481.2,306.7 L481.7,310.9 L482.6,321.4 L483.1,324.3 L483.5,324.3 L484.6,326.8 L485.0,315.0 L485.6,300.9 L486.3,282.7 L487.0,305.2 L487.8,323.3 L488.2,318.6 L488.9,313.8 L489.5,309.8 L490.0,305.4 L490.7,300.5 L491.1,300.6 L492.2,301.3 L492.6,299.8 L493.3,306.8 L493.9,302.9 L494.4,304.6 L495.2,296.5 L495.5,294.9 L495.8,294.3 L496.6,293.1 L497.1,296.8 L497.6,297.4 L498.3,303.5 L498.7,303.7 L499.8,305.2 L500.2,311.7 L500.9,309.6 L501.5,303.5 L502.0,299.2 L502.8,295.0 L503.1,292.7 L503.4,293.3 L504.2,296.0 L504.7,297.5 L505.3,299.2 L505.9,299.6 L506.4,302.9 L507.5,313.2 L507.9,316.6 L508.6,325.7 L509.1,326.3 L509.6,332.5 L510.4,329.7 L510.7,330.7 L511.0,332.0 L511.8,331.2 L512.3,338.4 L512.9,345.2 L513.5,346.6 L514.0,348.3 L515.1,347.0 L515.5,348.5 L516.2,346.0 L516.7,345.3 L517.3,345.2 L518.0,340.5 L518.4,337.2 L519.5,339.0 L519.9,332.1 L520.6,328.3 L521.2,322.7 L521.6,318.1 L522.7,313.6 L523.1,309.2 L523.8,306.9 L524.3,307.9 L524.9,302.3 L525.6,302.6" fill="none" stroke="#e6b02c" stroke-width="1.25" stroke-linejoin="round"/>
<path d="M305.6,301.8 L306.1,300.3 L306.7,294.6 L307.1,293.1 L307.5,295.8 L308.1,300.4 L308.7,300.3 L309.3,303.5 L310.0,303.3 L310.8,304.6 L311.5,303.1 L312.2,312.1 L312.6,311.9 L312.9,317.7 L313.4,325.0 L314.0,329.9 L314.6,330.9 L315.1,328.8 L315.9,328.8 L316.6,325.7 L317.3,323.1 L317.6,321.9 L318.1,321.3 L318.8,318.5 L319.5,318.2 L320.2,322.6 L321.0,323.6 L321.7,324.4 L322.1,326.1 L322.4,325.4 L322.7,319.7 L323.2,320.6 L323.9,318.1 L324.6,312.5 L325.4,312.7 L326.1,311.2 L326.8,312.6 L327.2,312.8 L327.5,311.8 L328.3,315.0 L329.0,308.8 L329.7,309.8 L330.5,311.3 L331.2,312.9 L331.6,313.5 L331.9,314.8 L332.2,314.4 L332.7,317.1 L333.4,322.2 L334.1,323.6 L334.8,328.1 L335.6,331.7 L336.3,335.8 L336.7,340.2 L337.0,345.4 L337.3,343.7 L337.8,336.5 L338.5,333.0 L339.2,335.2 L340.0,332.3 L340.7,337.4 L341.4,329.4 L341.7,331.7 L342.1,331.1 L342.9,332.4 L343.6,331.5 L344.3,330.1 L345.1,328.2 L345.8,327.1 L346.2,328.6 L346.5,323.7 L346.8,320.9 L347.3,316.1 L348.0,311.9 L348.7,307.4 L349.4,313.2 L350.2,313.8 L350.9,313.6 L351.2,315.6 L351.6,314.3 L352.4,315.4 L353.1,313.6 L353.8,309.2 L354.6,308.6 L355.3,306.2 L355.7,307.3 L356.0,305.3 L356.3,300.1 L356.7,297.5 L357.5,292.9 L358.2,293.2 L358.9,296.3 L359.7,301.0 L360.4,295.6 L360.8,296.4 L361.1,293.9 L361.9,293.8 L362.6,286.1 L363.3,276.8 L364.0,288.8 L364.8,293.6 L365.2,295.9 L365.5,296.6 L365.8,293.7 L366.2,295.0 L367.0,292.1 L367.7,293.2 L368.4,298.7 L369.2,300.9 L369.9,310.3 L370.3,313.0 L370.6,313.0 L370.9,313.6 L371.3,313.9 L372.1,315.7 L372.8,315.9 L373.5,321.5 L374.3,323.3 L375.0,324.8 L375.3,327.1 L375.7,324.9 L376.5,328.1 L377.2,327.4 L377.9,329.2 L378.6,331.6 L379.4,333.9 L379.8,336.2 L380.1,337.9 L380.7,342.6 L381.1,342.2 L381.6,345.0 L382.5,339.6 L382.9,340.3 L383.4,338.8 L384.2,336.9 L385.1,336.2 L385.5,336.4 L386.0,335.2 L386.8,338.3 L387.4,338.5 L387.7,337.7 L388.0,332.8 L388.6,335.2 L389.5,331.4 L389.9,334.5 L390.3,338.5 L391.2,339.2 L392.1,340.2 L392.5,339.1 L393.0,339.5 L393.8,339.6 L394.4,340.6 L394.7,341.1 L395.6,340.2 L396.4,343.1 L396.9,345.7 L397.3,340.8 L398.2,346.8 L398.8,343.6 L399.1,343.9 L399.4,348.0 L399.9,348.8 L400.8,347.1 L401.3,348.7 L401.7,349.0 L402.6,350.8 L403.4,351.9 L403.9,348.9 L404.3,355.7 L405.2,352.5 L406.0,357.3 L406.4,351.3 L406.9,354.2 L407.8,350.4 L408.3,351.4 L408.7,352.4 L409.5,349.4 L410.4,353.4 L410.8,355.2 L411.3,357.3 L412.2,357.9 L413.0,354.1 L413.4,351.0 L413.9,350.7 L414.8,351.1 L415.3,349.8 L415.6,348.8 L415.9,348.5 L416.6,348.9 L417.2,348.7 L418.0,346.4 L418.4,349.1 L419.1,347.1 L420.0,347.1 L420.4,351.8 L421.0,357.3 L421.9,366.7 L422.3,366.8 L422.8,365.7 L423.7,358.9 L424.2,355.4 L424.5,353.8 L425.6,351.4 L426.1,344.0 L426.7,343.5 L427.3,338.2 L427.8,337.9 L428.6,330.9 L428.9,329.6 L429.2,331.6 L430.0,325.9 L430.5,326.2 L431.1,325.5 L431.8,322.5 L432.2,323.7 L433.3,325.5 L433.7,326.2 L434.4,327.5 L434.9,330.2 L435.5,329.9 L436.5,324.5 L436.8,322.7 L437.6,319.4 L438.1,314.6 L438.7,311.0 L439.4,311.1 L439.8,307.6 L440.9,305.9 L441.3,303.7 L442.0,308.0 L442.5,306.4 L443.1,309.1 L443.8,304.7 L444.2,302.9 L445.3,302.1 L445.9,295.8 L446.4,298.8 L446.8,301.0 L447.7,303.6 L448.5,309.0 L448.9,307.4 L449.6,307.3 L450.1,311.2 L450.7,311.6 L451.4,313.9 L451.8,314.6 L452.9,320.3 L453.3,320.4 L454.0,323.2 L454.6,324.8 L455.1,327.6 L455.9,330.8 L456.2,333.0 L457.3,341.7 L457.8,342.1 L458.4,350.1 L459.0,352.0 L459.5,357.5 L460.5,360.2 L460.9,360.1 L461.6,360.6 L462.2,361.1 L462.7,359.6 L463.5,359.7 L463.8,358.1 L464.1,358.4 L464.9,357.7 L465.4,360.6 L466.0,355.2 L466.6,353.4 L467.1,353.1 L468.2,352.8 L468.5,353.9 L469.3,352.7 L469.8,355.9 L470.4,356.0 L471.1,357.3 L471.5,354.8 L472.5,354.4 L473.0,353.2 L473.6,354.1 L474.2,353.9 L474.7,353.6 L475.8,346.8 L476.1,345.2 L476.9,342.4 L477.4,339.2 L478.0,336.2 L478.7,328.8 L479.5,316.2 L480.2,305.8 L480.8,303.9 L481.2,305.2 L481.7,310.1 L482.6,319.3 L483.1,323.9 L483.5,323.1 L484.6,326.4 L485.0,314.2 L485.6,301.2 L486.3,280.0 L487.0,303.9 L487.8,322.7 L488.2,318.0 L488.9,312.3 L489.5,307.8 L490.0,305.0 L490.7,299.6 L491.1,300.1 L492.2,300.1 L492.6,299.4 L493.3,305.8 L493.9,301.9 L494.4,302.4 L495.2,295.1 L495.5,292.9 L495.8,292.3 L496.6,292.8 L497.1,294.9 L497.6,297.3 L498.3,302.1 L498.7,302.8 L499.8,304.5 L500.2,309.3 L500.9,308.5 L501.5,303.6 L502.0,296.9 L502.8,294.5 L503.1,291.1 L503.4,291.8 L504.2,294.7 L504.7,296.2 L505.3,299.9 L505.9,298.7 L506.4,301.5 L507.5,311.3 L507.9,314.1 L508.6,323.6 L509.1,326.8 L509.6,330.3 L510.4,330.9 L510.7,327.9 L511.0,329.1 L511.8,330.4 L512.3,337.2 L512.9,340.3 L513.5,343.6 L514.0,346.4 L515.1,343.1 L515.5,346.5 L516.2,342.0 L516.7,342.6 L517.3,340.9 L518.0,338.2 L518.4,331.6 L519.5,337.1 L519.9,331.4 L520.6,325.6 L521.2,320.9 L521.6,316.8 L522.7,311.5 L523.1,307.5 L523.8,305.6 L524.3,304.9 L524.9,300.5 L525.6,301.1" fill="none" stroke="#1b64a0" stroke-width="1.25" stroke-linejoin="round"/>
<path d="M305.6,286.2 L306.4,289.3 L307.1,290.9 L307.8,292.6 L308.1,288.3 L308.6,291.4 L309.3,290.8 L310.0,292.8 L310.8,294.0 L311.5,298.4 L312.2,308.3 L312.6,308.2 L312.9,314.9 L313.2,317.1 L313.7,317.1 L314.4,317.2 L315.1,313.4 L315.9,311.5 L316.6,312.5 L317.3,311.0 L317.6,309.9 L318.1,312.9 L318.8,311.5 L319.5,315.8 L320.2,311.2 L321.0,311.0 L321.7,306.3 L322.1,305.8 L322.4,304.5 L322.7,301.7 L323.2,305.2 L323.9,302.0 L324.6,301.9 L325.4,299.9 L326.1,295.9 L326.8,296.7 L327.2,302.5 L327.5,301.0 L328.3,301.9 L329.0,303.6 L329.7,304.4 L330.5,303.4 L331.2,302.9 L331.6,302.9 L331.9,303.6 L332.2,307.1 L332.7,308.2 L333.4,308.3 L334.1,315.0 L334.8,314.1 L335.6,318.5 L336.3,319.4 L336.7,319.7 L337.0,318.5 L337.3,319.0 L337.8,323.2 L338.5,320.9 L339.2,326.1 L340.0,320.0 L340.7,323.4 L341.4,319.6 L341.7,319.2 L342.1,319.5 L342.9,317.8 L343.6,321.4 L344.3,317.3 L345.1,317.8 L345.8,314.6 L346.2,318.0 L346.5,314.9 L346.8,313.7 L347.3,313.5 L348.0,310.0 L348.7,307.1 L349.4,307.0 L350.2,306.7 L350.9,305.3 L351.2,307.3 L351.6,300.8 L352.4,305.2 L353.1,305.2 L353.8,302.5 L354.6,299.8 L355.3,301.7 L355.7,303.6 L356.0,304.0 L356.3,302.9 L356.7,301.0 L357.5,300.7 L358.2,300.3 L358.9,296.0 L359.7,298.9 L360.4,294.5 L360.8,300.4 L361.1,293.0 L361.9,300.3 L362.6,296.5 L363.3,297.0 L364.0,300.8 L364.8,301.9 L365.2,303.0 L365.5,303.6 L365.8,303.6 L366.2,304.2 L367.0,302.7 L367.7,304.7 L368.4,307.5 L369.2,308.8 L369.9,312.6 L370.3,313.1 L370.6,316.6 L370.9,317.2 L371.3,318.6 L372.1,315.2 L372.8,309.2 L373.5,310.1 L374.3,307.4 L375.0,308.1 L375.3,311.1 L375.7,307.2 L376.5,310.3 L377.2,308.2 L377.9,307.9 L378.6,311.0 L379.4,312.5 L379.8,313.1 L380.1,314.5 L380.4,315.8 L380.8,317.0 L381.6,320.4 L382.5,315.4 L382.9,320.7 L383.4,319.0 L384.2,320.0 L385.1,322.8 L385.5,322.9 L386.0,323.1 L386.8,328.2 L387.4,325.8 L387.7,326.1 L388.0,328.3 L388.6,325.5 L389.5,318.5 L389.9,319.7 L390.3,320.8 L391.2,317.5 L392.1,317.1 L392.5,318.1 L393.0,320.5 L393.8,318.7 L394.4,322.6 L394.7,323.1 L395.6,319.3 L396.4,320.9 L396.9,322.1 L397.3,323.1 L398.2,325.1 L398.8,325.2 L399.1,325.6 L399.4,327.9 L399.9,324.6 L400.8,330.5 L401.3,328.4 L401.7,329.3 L402.6,328.8 L403.4,335.8 L403.9,332.7 L404.3,335.1 L405.2,336.9 L406.0,334.9 L406.4,338.3 L406.9,337.9 L407.8,340.5 L408.3,339.3 L408.7,343.3 L409.5,337.0 L410.4,338.0 L410.8,335.6 L411.3,335.3 L412.2,336.7 L413.0,331.1 L413.4,331.1 L413.9,329.8 L414.8,327.6 L415.3,324.7 L415.6,326.6 L415.9,326.6 L416.5,326.9 L417.2,324.5 L418.0,326.9 L418.4,326.1 L419.1,326.4 L419.7,327.9 L420.4,330.9 L421.0,333.5 L421.6,335.6 L422.4,334.9 L422.9,339.0 L423.5,338.8 L424.2,336.6 L424.5,338.6 L425.6,341.7 L426.1,339.8 L426.7,337.9 L427.3,336.2 L427.8,332.0 L428.6,328.9 L428.9,327.2 L429.2,323.6 L430.0,322.3 L430.5,321.1 L431.1,323.8 L431.8,319.0 L432.2,317.1 L433.3,314.4 L433.7,312.7 L434.4,310.5 L434.9,311.7 L435.5,311.4 L436.5,314.9 L436.8,314.2 L437.6,319.0 L438.1,317.4 L438.7,320.7 L439.4,318.0 L439.8,322.0 L440.9,313.2 L441.3,320.4 L442.0,317.3 L442.5,323.6 L443.1,317.8 L443.8,321.0 L444.2,316.5 L445.3,316.2 L445.7,310.6 L446.4,311.7 L447.0,312.1 L447.5,313.2 L448.5,313.1 L448.9,312.6 L449.6,315.9 L450.1,314.9 L450.7,317.1 L451.4,317.1 L451.8,317.6 L452.9,321.1 L453.3,324.1 L454.0,324.2 L454.6,324.8 L455.1,327.5 L455.9,326.2 L456.2,329.7 L457.3,332.7 L457.8,333.8 L458.4,335.5 L459.0,337.7 L459.5,340.8 L460.5,338.4 L460.9,340.5 L461.6,341.5 L462.2,335.6 L462.7,341.4 L463.5,341.2 L463.8,338.2 L464.1,337.9 L464.9,339.9 L465.4,340.8 L466.0,337.9 L466.6,339.2 L467.1,341.6 L468.2,336.8 L468.5,344.0 L469.3,338.6 L469.8,344.4 L470.4,343.9 L471.1,344.4 L471.5,344.1 L472.5,344.1 L473.0,342.3 L473.6,342.8 L474.2,342.0 L474.7,341.1 L475.8,341.8 L476.1,337.6 L476.9,336.4 L477.4,335.6 L478.0,336.6 L478.7,331.5 L479.1,332.1 L480.2,329.6 L480.6,331.0 L481.3,324.9 L481.9,328.6 L482.4,323.9 L483.1,329.4 L483.5,323.6 L484.6,330.2 L485.0,324.0 L485.6,329.2 L486.3,322.7 L486.7,322.3 L487.8,327.2 L488.2,325.9 L488.9,326.1 L489.5,323.4 L490.0,318.5 L490.7,316.9 L491.1,316.3 L492.2,318.1 L492.6,312.7 L493.3,316.4 L493.9,310.9 L494.4,311.4 L495.2,313.9 L495.5,310.6 L495.8,310.9 L496.6,317.8 L497.1,317.0 L497.6,315.8 L498.3,319.0 L498.7,321.0 L499.8,324.8 L500.2,325.4 L500.9,329.3 L501.5,327.8 L502.0,321.9 L502.8,321.5 L503.1,317.5 L503.4,317.2 L504.2,318.1 L504.7,317.1 L505.3,319.0 L505.9,321.4 L506.4,322.6 L507.5,328.0 L507.9,328.4 L508.6,335.0 L509.1,332.4 L509.6,338.1 L510.4,336.0 L510.7,338.4 L511.0,338.7 L511.8,337.9 L512.3,337.6 L512.9,336.3 L513.5,338.2 L514.0,340.9 L515.1,335.5 L515.5,338.2 L516.2,337.6 L516.7,334.8 L517.3,340.2 L518.0,336.0 L518.4,332.8 L519.5,335.1 L519.9,330.4 L520.6,330.7 L521.2,330.0 L521.6,326.2 L522.7,328.6 L523.1,328.0 L523.8,325.1 L524.3,325.1 L524.9,323.1 L525.6,325.8" fill="none" stroke="#c83a55" stroke-width="1.25" stroke-linejoin="round"/>
<path d="M305.6,285.8 L306.1,281.7 L306.7,285.1 L307.3,287.6 L307.8,292.0 L308.1,292.9 L308.6,293.8 L309.3,299.9 L310.0,303.9 L310.8,307.3 L311.5,307.9 L312.2,316.3 L312.6,323.3 L312.9,324.4 L313.2,327.2 L313.7,334.5 L314.4,350.0 L314.8,354.0 L315.3,349.7 L315.7,346.4 L316.6,340.3 L317.0,342.5 L317.5,341.6 L318.3,339.6 L319.2,338.6 L319.6,338.2 L320.1,339.4 L320.9,341.9 L321.4,340.8 L321.8,340.1 L322.7,335.3 L323.6,334.2 L324.0,329.7 L324.4,325.4 L325.3,321.5 L325.9,321.4 L326.2,320.2 L326.5,317.3 L327.1,320.1 L327.9,316.2 L328.4,315.2 L328.8,314.4 L329.7,314.8 L330.5,318.8 L331.0,319.2 L331.4,320.1 L332.3,323.6 L332.9,323.1 L333.2,324.9 L334.0,327.8 L334.9,333.7 L335.4,336.2 L335.8,335.2 L336.7,336.7 L337.0,337.3 L337.3,337.8 L337.8,337.1 L338.5,339.9 L339.2,343.7 L340.0,339.8 L340.7,339.3 L341.4,337.9 L341.7,338.2 L342.1,337.9 L342.9,333.8 L343.6,337.4 L344.3,334.8 L345.1,335.8 L345.8,330.2 L346.2,332.9 L346.5,329.5 L347.1,323.2 L347.4,322.0 L348.0,316.9 L348.9,314.0 L349.4,318.8 L349.7,319.6 L350.6,323.2 L351.5,327.3 L351.9,329.1 L352.4,335.2 L353.2,327.6 L353.8,326.4 L354.1,325.7 L354.4,323.6 L355.0,321.3 L355.9,317.6 L356.3,322.7 L356.7,316.8 L357.6,323.3 L358.5,328.5 L358.9,324.8 L359.3,331.4 L360.2,323.4 L360.8,324.1 L361.1,326.5 L362.0,325.1 L362.8,320.9 L363.3,317.9 L363.7,321.1 L364.4,325.0 L365.0,325.7 L365.5,332.0 L365.8,335.7 L366.2,334.1 L367.0,336.2 L367.7,335.4 L368.4,341.5 L369.2,344.1 L369.9,351.6 L370.3,352.9 L370.6,354.8 L370.9,356.7 L371.3,358.8 L372.1,355.1 L372.8,357.2 L373.5,353.4 L374.3,356.9 L375.0,353.4 L375.3,354.9 L375.7,352.5 L376.5,350.1 L377.2,354.5 L377.9,348.7 L378.6,348.3 L379.4,344.4 L379.8,349.4 L380.1,351.1 L380.4,355.0 L380.8,361.6 L381.6,362.1 L382.5,358.8 L382.9,360.8 L383.4,357.0 L384.2,360.6 L385.1,362.2 L385.5,365.0 L386.0,364.6 L386.8,365.7 L387.4,368.4 L387.7,369.2 L388.0,367.0 L388.6,369.5 L389.5,366.6 L389.9,365.8 L390.3,366.1 L391.2,364.3 L392.1,362.3 L392.5,363.4 L393.0,361.9 L393.8,364.1 L394.4,362.3 L394.7,364.6 L395.6,364.9 L396.4,367.3 L396.9,368.5 L397.3,368.6 L398.2,370.4 L398.8,372.8 L399.1,373.5 L399.4,375.0 L399.9,376.0 L400.8,376.6 L401.3,378.6 L401.7,378.6 L402.6,380.4 L403.4,383.5 L403.9,382.4 L404.3,386.9 L405.2,385.4 L406.0,389.3 L406.4,387.6 L406.9,389.7 L407.8,386.8 L408.3,389.0 L408.7,392.0 L409.5,392.5 L410.4,392.6 L410.8,391.2 L411.3,392.2 L412.2,392.6 L413.0,391.5 L413.4,384.4 L413.9,384.5 L414.8,382.8 L415.3,380.3 L415.6,380.7 L415.9,379.9 L416.5,377.8 L417.4,374.1 L417.8,373.3 L418.4,379.0 L419.1,376.6 L419.7,383.1 L420.2,383.6 L421.1,387.8 L421.9,381.0 L422.3,381.7 L422.8,379.6 L423.7,374.9 L424.2,375.9 L424.5,373.8 L425.6,376.1 L426.1,372.1 L426.7,375.9 L427.3,373.7 L427.8,373.5 L428.6,370.8 L428.9,370.5 L429.2,375.2 L430.0,371.6 L430.5,373.2 L431.1,374.3 L431.8,375.4 L432.2,373.2 L433.3,377.4 L433.7,373.0 L434.4,380.8 L434.9,376.8 L435.5,380.3 L436.5,372.0 L436.8,372.4 L437.6,370.5 L438.1,368.5 L438.7,363.8 L439.4,363.1 L439.8,362.9 L440.9,365.2 L441.3,361.0 L442.0,367.1 L442.5,366.1 L443.1,364.8 L443.8,360.1 L444.2,361.7 L445.3,357.1 L445.9,353.1 L446.4,356.8 L446.8,356.3 L447.7,362.4 L448.5,365.9 L448.9,366.7 L449.6,366.9 L450.1,370.6 L450.7,369.6 L451.4,374.2 L451.8,374.6 L452.9,375.4 L453.3,377.8 L454.0,376.4 L454.6,380.5 L455.1,379.3 L455.9,384.0 L456.2,384.9 L457.3,390.2 L457.8,388.2 L458.4,397.0 L459.0,397.9 L459.5,404.8 L460.5,406.1 L460.9,406.6 L461.6,401.4 L462.2,400.8 L462.7,397.0 L463.5,400.1 L463.8,396.8 L464.1,396.2 L464.9,395.5 L465.4,395.6 L466.0,393.5 L466.6,392.0 L467.1,387.2 L468.2,386.6 L468.5,386.8 L469.3,386.0 L469.8,390.4 L470.4,388.4 L471.1,390.5 L471.5,387.8 L472.5,387.0 L473.0,388.8 L473.6,385.1 L474.2,387.4 L474.7,385.9 L475.8,383.7 L476.1,382.1 L476.9,382.1 L477.4,380.3 L478.0,381.1 L478.7,377.9 L479.1,374.5 L480.2,365.9 L480.6,365.1 L481.3,359.1 L481.9,365.0 L482.6,379.8 L483.1,379.8 L483.5,377.6 L484.6,377.2 L485.2,358.3 L485.7,345.2 L486.1,340.6 L486.7,362.1 L487.4,386.1 L488.3,377.2 L489.1,374.4 L489.5,371.0 L490.0,369.0 L490.7,364.2 L491.1,362.6 L492.2,366.3 L492.6,363.2 L493.3,368.8 L493.9,364.5 L494.4,361.5 L495.2,358.6 L495.5,358.5 L495.8,358.2 L496.6,357.8 L497.1,359.0 L497.6,362.8 L498.3,370.2 L498.7,374.0 L499.8,382.6 L500.2,379.4 L500.9,372.5 L501.5,367.4 L502.0,361.6 L502.8,360.3 L503.1,358.7 L503.4,359.3 L504.2,362.1 L504.7,363.0 L505.3,366.0 L505.9,363.2 L506.4,364.0 L507.5,393.7 L507.9,394.7 L508.6,398.4 L509.1,396.8 L509.6,395.2 L510.4,400.5 L510.7,404.4 L511.0,403.1 L511.8,395.1 L512.3,406.9 L512.9,412.0 L513.6,419.7 L514.4,417.0 L514.8,414.0 L515.3,414.6 L516.2,411.2 L516.7,412.1 L517.3,415.6 L518.0,410.4 L518.4,406.2 L519.5,404.7 L519.9,405.3 L520.6,411.5 L521.2,400.1 L521.6,397.2 L522.7,384.4 L523.1,382.0 L523.8,374.9 L524.3,372.4 L524.9,367.8" fill="none" stroke="#6fa236" stroke-width="1.25" stroke-linejoin="round"/>
<line x1="104.0" y1="501.5" x2="121.4" y2="501.5" stroke="#1b64a0" stroke-width="1.0"/>
<text x="123.2" y="504.7" class="lg" textLength="34.6" lengthAdjust="spacingAndGlyphs">Baseline</text>
<line x1="161.5" y1="501.5" x2="179.0" y2="501.5" stroke="#c83a55" stroke-width="1.0"/>
<text x="181.2" y="504.7" class="lg" textLength="46.7" lengthAdjust="spacingAndGlyphs">Diagonal Φ</text>
<line x1="232.3" y1="501.5" x2="249.2" y2="501.5" stroke="#e6b02c" stroke-width="1.0"/>
<text x="251.3" y="504.7" class="lg" textLength="44.7" lengthAdjust="spacingAndGlyphs">Diagonal Γ</text>
<line x1="300.8" y1="501.5" x2="318.4" y2="501.5" stroke="#6fa236" stroke-width="1.0"/>
<text x="320.0" y="504.7" class="lg" textLength="115.3" lengthAdjust="spacingAndGlyphs">Only mkt price of level risk</text>
</svg>
</body></html>
